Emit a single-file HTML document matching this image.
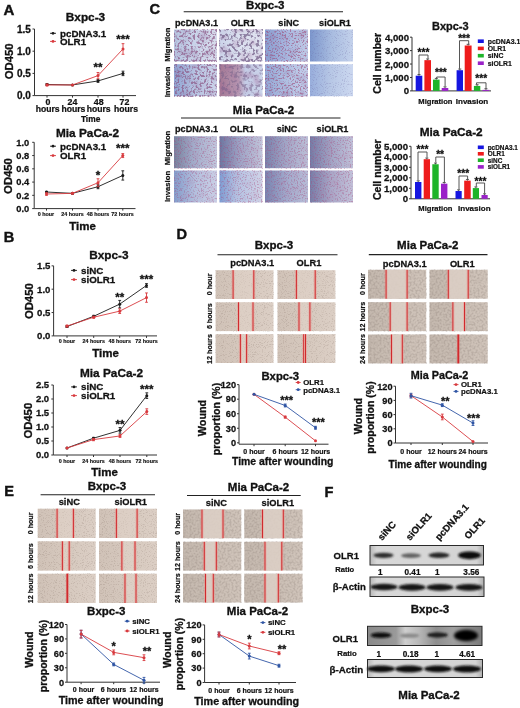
<!DOCTYPE html><html><head><meta charset="utf-8"><title>Figure</title><style>html,body{margin:0;padding:0;background:#fff;width:520px;height:708px;overflow:hidden}svg{display:block;filter:blur(0.35px)}</style></head><body><svg width="520" height="708" viewBox="0 0 520 708" font-family='"Liberation Sans", Arial, sans-serif'><defs><filter id="cellA" x="0" y="0" width="1" height="1" color-interpolation-filters="sRGB"><feTurbulence type="fractalNoise" baseFrequency="0.45" numOctaves="2" seed="3"/><feColorMatrix type="matrix" values="0 0 0 0 0.55 0 0 0 0 0.34 0 0 0 0 0.52 6 0 0 0 -2.9"/><feComponentTransfer><feFuncA type="linear" slope="0.7"/></feComponentTransfer><feGaussianBlur stdDeviation="0.55"/></filter><filter id="cellB" x="0" y="0" width="1" height="1" color-interpolation-filters="sRGB"><feTurbulence type="fractalNoise" baseFrequency="0.32" numOctaves="2" seed="7"/><feColorMatrix type="matrix" values="0 0 0 0 0.46 0 0 0 0 0.38 0 0 0 0 0.54 7 0 0 0 -3.5"/><feComponentTransfer><feFuncA type="linear" slope="0.75"/></feComponentTransfer><feGaussianBlur stdDeviation="0.55"/></filter><filter id="cellC" x="0" y="0" width="1" height="1" color-interpolation-filters="sRGB"><feTurbulence type="fractalNoise" baseFrequency="0.6" numOctaves="2" seed="11"/><feColorMatrix type="matrix" values="0 0 0 0 0.62 0 0 0 0 0.3 0 0 0 0 0.48 6 0 0 0 -3.1"/><feComponentTransfer><feFuncA type="linear" slope="0.6"/></feComponentTransfer><feGaussianBlur stdDeviation="0.55"/></filter><filter id="cellD" x="0" y="0" width="1" height="1" color-interpolation-filters="sRGB"><feTurbulence type="fractalNoise" baseFrequency="0.9" numOctaves="2" seed="5"/><feColorMatrix type="matrix" values="0 0 0 0 0.4 0 0 0 0 0.35 0 0 0 0 0.6 6 0 0 0 -3.4"/><feComponentTransfer><feFuncA type="linear" slope="0.22"/></feComponentTransfer><feGaussianBlur stdDeviation="0.55"/></filter><filter id="cellE" x="0" y="0" width="1" height="1" color-interpolation-filters="sRGB"><feTurbulence type="fractalNoise" baseFrequency="0.7" numOctaves="2" seed="13"/><feColorMatrix type="matrix" values="0 0 0 0 0.66 0 0 0 0 0.28 0 0 0 0 0.48 6 0 0 0 -3.1"/><feComponentTransfer><feFuncA type="linear" slope="0.6"/></feComponentTransfer><feGaussianBlur stdDeviation="0.55"/></filter><filter id="speck" x="0" y="0" width="1" height="1" color-interpolation-filters="sRGB"><feTurbulence type="fractalNoise" baseFrequency="0.9" numOctaves="2" seed="2"/><feColorMatrix type="matrix" values="0 0 0 0 0.38 0 0 0 0 0.3 0 0 0 0 0.26 5 0 0 0 -2.7"/><feComponentTransfer><feFuncA type="linear" slope="0.16"/></feComponentTransfer><feGaussianBlur stdDeviation="0.45"/></filter><filter id="speck2" x="0" y="0" width="1" height="1" color-interpolation-filters="sRGB"><feTurbulence type="fractalNoise" baseFrequency="0.5" numOctaves="3" seed="9"/><feColorMatrix type="matrix" values="0 0 0 0 0.45 0 0 0 0 0.4 0 0 0 0 0.37 4 0 0 0 -1.7"/><feComponentTransfer><feFuncA type="linear" slope="0.2"/></feComponentTransfer><feGaussianBlur stdDeviation="0.5"/></filter><filter id="mot1" x="0" y="0" width="1" height="1" color-interpolation-filters="sRGB"><feTurbulence type="fractalNoise" baseFrequency="0.12" numOctaves="2" seed="21"/><feColorMatrix type="matrix" values="0 0 0 0 0.55 0 0 0 0 0.4 0 0 0 0 0.6 5 0 0 0 -2.6"/><feComponentTransfer><feFuncA type="linear" slope="0.3"/></feComponentTransfer><feGaussianBlur stdDeviation="1.0"/></filter><filter id="mot2" x="0" y="0" width="1" height="1" color-interpolation-filters="sRGB"><feTurbulence type="fractalNoise" baseFrequency="0.15" numOctaves="2" seed="31"/><feColorMatrix type="matrix" values="0 0 0 0 0.62 0 0 0 0 0.38 0 0 0 0 0.58 5 0 0 0 -2.5"/><feComponentTransfer><feFuncA type="linear" slope="0.35"/></feComponentTransfer><feGaussianBlur stdDeviation="1.0"/></filter><filter id="mot3" x="0" y="0" width="1" height="1" color-interpolation-filters="sRGB"><feTurbulence type="fractalNoise" baseFrequency="0.15" numOctaves="2" seed="41"/><feColorMatrix type="matrix" values="0 0 0 0 0.7 0 0 0 0 0.45 0 0 0 0 0.62 5 0 0 0 -2.6"/><feComponentTransfer><feFuncA type="linear" slope="0.15"/></feComponentTransfer><feGaussianBlur stdDeviation="1.0"/></filter><linearGradient id="tg1" x1="0" y1="0" x2="1" y2="0"><stop offset="0" stop-color="#b6c4e0"/><stop offset="0.5" stop-color="#cad4ea"/><stop offset="1" stop-color="#d8dcec"/></linearGradient><linearGradient id="tg2" x1="0" y1="0" x2="1" y2="0"><stop offset="0" stop-color="#ccd4ea"/><stop offset="0.5" stop-color="#dce2f0"/><stop offset="1" stop-color="#e0e2f0"/></linearGradient><linearGradient id="tg3" x1="0" y1="0" x2="1" y2="0"><stop offset="0" stop-color="#8aa0d2"/><stop offset="0.5" stop-color="#a8b8e0"/><stop offset="1" stop-color="#c0cce8"/></linearGradient><linearGradient id="tg4" x1="0" y1="0" x2="1" y2="0"><stop offset="0" stop-color="#7c96cc"/><stop offset="0.5" stop-color="#a8bce0"/><stop offset="1" stop-color="#c4d2ec"/></linearGradient><linearGradient id="tg5" x1="0" y1="0" x2="1" y2="0"><stop offset="0" stop-color="#90a6d4"/><stop offset="0.5" stop-color="#b8c4e2"/><stop offset="1" stop-color="#ccd4ea"/></linearGradient><linearGradient id="tg6" x1="0" y1="0" x2="1" y2="0"><stop offset="0" stop-color="#a47894"/><stop offset="0.45" stop-color="#b89ab4"/><stop offset="0.6" stop-color="#c4cce6"/><stop offset="1" stop-color="#cdd6ec"/></linearGradient><linearGradient id="tg7" x1="0" y1="0" x2="1" y2="0"><stop offset="0" stop-color="#94aad8"/><stop offset="0.5" stop-color="#b0c0e2"/><stop offset="1" stop-color="#c4d0ec"/></linearGradient><linearGradient id="tg8" x1="0" y1="0" x2="1" y2="0"><stop offset="0" stop-color="#98aedc"/><stop offset="0.5" stop-color="#b8c8e6"/><stop offset="1" stop-color="#ccd8f0"/></linearGradient><linearGradient id="tg9" x1="0" y1="0" x2="1" y2="0"><stop offset="0" stop-color="#76829e"/><stop offset="0.45" stop-color="#a2acca"/><stop offset="1" stop-color="#c2c8de"/></linearGradient><linearGradient id="tg10" x1="0" y1="0" x2="1" y2="0"><stop offset="0" stop-color="#6c76a0"/><stop offset="0.45" stop-color="#9ca2c4"/><stop offset="1" stop-color="#c2c6dc"/></linearGradient><linearGradient id="tg11" x1="0" y1="0" x2="1" y2="0"><stop offset="0" stop-color="#7882ac"/><stop offset="0.5" stop-color="#a2a8c8"/><stop offset="1" stop-color="#bcc0d8"/></linearGradient><linearGradient id="tg12" x1="0" y1="0" x2="1" y2="0"><stop offset="0" stop-color="#747ca6"/><stop offset="0.5" stop-color="#a2a6c6"/><stop offset="1" stop-color="#c0c2da"/></linearGradient><linearGradient id="tg13" x1="0" y1="0" x2="1" y2="0"><stop offset="0" stop-color="#849ecc"/><stop offset="0.5" stop-color="#b4c0de"/><stop offset="1" stop-color="#cad0e6"/></linearGradient><linearGradient id="tg14" x1="0" y1="0" x2="1" y2="0"><stop offset="0" stop-color="#7e9cd2"/><stop offset="0.4" stop-color="#b4c2e2"/><stop offset="1" stop-color="#d0d4e8"/></linearGradient><linearGradient id="tg15" x1="0" y1="0" x2="1" y2="0"><stop offset="0" stop-color="#7884b0"/><stop offset="0.5" stop-color="#a2aacc"/><stop offset="1" stop-color="#b8bed8"/></linearGradient><linearGradient id="tg16" x1="0" y1="0" x2="1" y2="0"><stop offset="0" stop-color="#767ea8"/><stop offset="0.5" stop-color="#aaa8c8"/><stop offset="1" stop-color="#c2c2da"/></linearGradient><linearGradient id="gW1" x1="0" y1="0" x2="1" y2="0"><stop offset="0" stop-color="#d0c2b7"/><stop offset="1" stop-color="#dccfc5"/></linearGradient><linearGradient id="gW2" x1="0" y1="0" x2="1" y2="0"><stop offset="0" stop-color="#c4b8ae"/><stop offset="1" stop-color="#d0c4ba"/></linearGradient><filter id="bl" x="-50%" y="-100%" width="200%" height="300%"><feGaussianBlur stdDeviation="1.1"/></filter><filter id="bl2" x="-50%" y="-100%" width="200%" height="300%"><feGaussianBlur stdDeviation="1.6"/></filter><linearGradient id="gB1" x1="0" y1="0" x2="1" y2="0"><stop offset="0" stop-color="#b8b8b8"/><stop offset="0.06" stop-color="#d8d8d8"/><stop offset="0.94" stop-color="#d4d4d4"/><stop offset="1" stop-color="#b0b0b0"/></linearGradient><linearGradient id="gB3" x1="0" y1="0" x2="1" y2="0"><stop offset="0" stop-color="#8a8a8a"/><stop offset="0.25" stop-color="#9a9a9a"/><stop offset="0.33" stop-color="#cfcfcf"/><stop offset="0.45" stop-color="#b8b8b8"/><stop offset="0.6" stop-color="#8e8e8e"/><stop offset="0.75" stop-color="#a0a0a0"/><stop offset="1" stop-color="#7a7a7a"/></linearGradient></defs><rect width="520" height="708" fill="#fff"/><text x="3.50" y="15.20" font-size="15" text-anchor="start" fill="#111" font-weight="bold" stroke="#111" stroke-width="0.420">A</text>
<text x="149.60" y="14.30" font-size="14.6" text-anchor="start" fill="#111" font-weight="bold" stroke="#111" stroke-width="0.409">C</text>
<text x="3.80" y="242.00" font-size="14.6" text-anchor="start" fill="#111" font-weight="bold" stroke="#111" stroke-width="0.409">B</text>
<text x="176.50" y="239.30" font-size="14.6" text-anchor="start" fill="#111" font-weight="bold" stroke="#111" stroke-width="0.409">D</text>
<text x="4.20" y="495.90" font-size="14.6" text-anchor="start" fill="#111" font-weight="bold" stroke="#111" stroke-width="0.409">E</text>
<text x="324.60" y="497.00" font-size="14.6" text-anchor="start" fill="#111" font-weight="bold" stroke="#111" stroke-width="0.409">F</text>
<line x1="34.50" y1="29.00" x2="34.50" y2="95.60" stroke="#333" stroke-width="1"/>
<line x1="32.50" y1="95.60" x2="34.50" y2="95.60" stroke="#333" stroke-width="1"/>
<text x="30.90" y="99.20" font-size="10" text-anchor="end" fill="#111" font-weight="bold" stroke="#111" stroke-width="0.280">0.0</text>
<line x1="32.50" y1="73.40" x2="34.50" y2="73.40" stroke="#333" stroke-width="1"/>
<text x="30.90" y="77.00" font-size="10" text-anchor="end" fill="#111" font-weight="bold" stroke="#111" stroke-width="0.280">0.5</text>
<line x1="32.50" y1="51.20" x2="34.50" y2="51.20" stroke="#333" stroke-width="1"/>
<text x="30.90" y="54.80" font-size="10" text-anchor="end" fill="#111" font-weight="bold" stroke="#111" stroke-width="0.280">1.0</text>
<line x1="32.50" y1="29.00" x2="34.50" y2="29.00" stroke="#333" stroke-width="1"/>
<text x="30.90" y="32.60" font-size="10" text-anchor="end" fill="#111" font-weight="bold" stroke="#111" stroke-width="0.280">1.5</text>
<line x1="34.50" y1="95.60" x2="136.00" y2="95.60" stroke="#333" stroke-width="1"/>
<line x1="47.00" y1="95.60" x2="47.00" y2="97.60" stroke="#333" stroke-width="1"/>
<line x1="72.50" y1="95.60" x2="72.50" y2="97.60" stroke="#333" stroke-width="1"/>
<line x1="98.00" y1="95.60" x2="98.00" y2="97.60" stroke="#333" stroke-width="1"/>
<line x1="123.00" y1="95.60" x2="123.00" y2="97.60" stroke="#333" stroke-width="1"/>
<text x="85.50" y="21.20" font-size="11.8" text-anchor="middle" fill="#111" font-weight="bold" stroke="#111" stroke-width="0.330">Bxpc-3</text>
<line x1="50.00" y1="33.30" x2="56.00" y2="33.30" stroke="#1a1a1a" stroke-width="0.9"/>
<circle cx="53.00" cy="33.30" r="1.4" fill="#1a1a1a"/>
<text x="60.00" y="36.83" font-size="9.8" text-anchor="start" fill="#111" font-weight="bold" stroke="#111" stroke-width="0.274">pcDNA3.1</text>
<line x1="50.00" y1="41.40" x2="56.00" y2="41.40" stroke="#d83a3e" stroke-width="0.9"/>
<circle cx="53.00" cy="41.40" r="1.4" fill="#d83a3e"/>
<text x="60.00" y="44.93" font-size="9.8" text-anchor="start" fill="#111" font-weight="bold" stroke="#111" stroke-width="0.274">OLR1</text>
<polyline points="47.00,84.50 72.50,84.94 98.00,80.95 123.00,73.40" fill="none" stroke="#1a1a1a" stroke-width="0.9"/>
<line x1="47.00" y1="83.61" x2="47.00" y2="85.39" stroke="#1a1a1a" stroke-width="0.9"/>
<line x1="45.60" y1="83.61" x2="48.40" y2="83.61" stroke="#1a1a1a" stroke-width="0.9"/>
<line x1="45.60" y1="85.39" x2="48.40" y2="85.39" stroke="#1a1a1a" stroke-width="0.9"/>
<circle cx="47.00" cy="84.50" r="1.5" fill="#1a1a1a"/>
<circle cx="72.50" cy="84.94" r="1.5" fill="#1a1a1a"/>
<line x1="98.00" y1="79.62" x2="98.00" y2="82.28" stroke="#1a1a1a" stroke-width="0.9"/>
<line x1="96.60" y1="79.62" x2="99.40" y2="79.62" stroke="#1a1a1a" stroke-width="0.9"/>
<line x1="96.60" y1="82.28" x2="99.40" y2="82.28" stroke="#1a1a1a" stroke-width="0.9"/>
<circle cx="98.00" cy="80.95" r="1.5" fill="#1a1a1a"/>
<line x1="123.00" y1="71.18" x2="123.00" y2="75.62" stroke="#1a1a1a" stroke-width="0.9"/>
<line x1="121.60" y1="71.18" x2="124.40" y2="71.18" stroke="#1a1a1a" stroke-width="0.9"/>
<line x1="121.60" y1="75.62" x2="124.40" y2="75.62" stroke="#1a1a1a" stroke-width="0.9"/>
<circle cx="123.00" cy="73.40" r="1.5" fill="#1a1a1a"/>
<polyline points="47.00,84.94 72.50,84.94 98.00,75.62 123.00,48.98" fill="none" stroke="#d83a3e" stroke-width="0.9"/>
<line x1="47.00" y1="84.06" x2="47.00" y2="85.83" stroke="#d83a3e" stroke-width="0.9"/>
<line x1="45.60" y1="84.06" x2="48.40" y2="84.06" stroke="#d83a3e" stroke-width="0.9"/>
<line x1="45.60" y1="85.83" x2="48.40" y2="85.83" stroke="#d83a3e" stroke-width="0.9"/>
<circle cx="47.00" cy="84.94" r="1.5" fill="#d83a3e"/>
<circle cx="72.50" cy="84.94" r="1.5" fill="#d83a3e"/>
<line x1="98.00" y1="72.51" x2="98.00" y2="78.73" stroke="#d83a3e" stroke-width="0.9"/>
<line x1="96.60" y1="72.51" x2="99.40" y2="72.51" stroke="#d83a3e" stroke-width="0.9"/>
<line x1="96.60" y1="78.73" x2="99.40" y2="78.73" stroke="#d83a3e" stroke-width="0.9"/>
<circle cx="98.00" cy="75.62" r="1.5" fill="#d83a3e"/>
<line x1="123.00" y1="43.65" x2="123.00" y2="54.31" stroke="#d83a3e" stroke-width="0.9"/>
<line x1="121.60" y1="43.65" x2="124.40" y2="43.65" stroke="#d83a3e" stroke-width="0.9"/>
<line x1="121.60" y1="54.31" x2="124.40" y2="54.31" stroke="#d83a3e" stroke-width="0.9"/>
<circle cx="123.00" cy="48.98" r="1.5" fill="#d83a3e"/>
<text x="98.00" y="71.48" font-size="11.5" text-anchor="middle" fill="#111" font-weight="bold" stroke="#111" stroke-width="0.322">**</text>
<text x="123.00" y="43.48" font-size="11.5" text-anchor="middle" fill="#111" font-weight="bold" stroke="#111" stroke-width="0.322">***</text>
<text x="13.00" y="61.30" font-size="11.3" text-anchor="middle" fill="#111" font-weight="bold" transform="rotate(-90 13.00 61.30)" stroke="#111" stroke-width="0.316">OD450</text>
<text x="90.60" y="121.60" font-size="8.4" text-anchor="middle" fill="#111" font-weight="bold" stroke="#111" stroke-width="0.235">Time</text>
<text x="48.00" y="105.40" font-size="8.8" text-anchor="middle" fill="#111" font-weight="bold" stroke="#111" stroke-width="0.246">0</text>
<text x="47.60" y="112.40" font-size="8.6" text-anchor="middle" fill="#111" font-weight="bold" stroke="#111" stroke-width="0.241">hours</text>
<text x="72.50" y="105.40" font-size="8.8" text-anchor="middle" fill="#111" font-weight="bold" stroke="#111" stroke-width="0.246">24</text>
<text x="73.40" y="112.40" font-size="8.6" text-anchor="middle" fill="#111" font-weight="bold" stroke="#111" stroke-width="0.241">hours</text>
<text x="98.70" y="105.40" font-size="8.8" text-anchor="middle" fill="#111" font-weight="bold" stroke="#111" stroke-width="0.246">48</text>
<text x="98.60" y="112.40" font-size="8.6" text-anchor="middle" fill="#111" font-weight="bold" stroke="#111" stroke-width="0.241">hours</text>
<text x="124.40" y="105.40" font-size="8.8" text-anchor="middle" fill="#111" font-weight="bold" stroke="#111" stroke-width="0.246">72</text>
<text x="126.00" y="112.40" font-size="8.6" text-anchor="middle" fill="#111" font-weight="bold" stroke="#111" stroke-width="0.241">hours</text>
<line x1="34.20" y1="142.30" x2="34.20" y2="208.60" stroke="#333" stroke-width="1"/>
<line x1="32.20" y1="208.60" x2="34.20" y2="208.60" stroke="#333" stroke-width="1"/>
<text x="29.20" y="211.95" font-size="9.3" text-anchor="end" fill="#111" font-weight="bold" stroke="#111" stroke-width="0.260">0.0</text>
<line x1="32.20" y1="195.34" x2="34.20" y2="195.34" stroke="#333" stroke-width="1"/>
<text x="29.20" y="198.69" font-size="9.3" text-anchor="end" fill="#111" font-weight="bold" stroke="#111" stroke-width="0.260">0.2</text>
<line x1="32.20" y1="182.08" x2="34.20" y2="182.08" stroke="#333" stroke-width="1"/>
<text x="29.20" y="185.43" font-size="9.3" text-anchor="end" fill="#111" font-weight="bold" stroke="#111" stroke-width="0.260">0.4</text>
<line x1="32.20" y1="168.82" x2="34.20" y2="168.82" stroke="#333" stroke-width="1"/>
<text x="29.20" y="172.17" font-size="9.3" text-anchor="end" fill="#111" font-weight="bold" stroke="#111" stroke-width="0.260">0.6</text>
<line x1="32.20" y1="155.56" x2="34.20" y2="155.56" stroke="#333" stroke-width="1"/>
<text x="29.20" y="158.91" font-size="9.3" text-anchor="end" fill="#111" font-weight="bold" stroke="#111" stroke-width="0.260">0.8</text>
<line x1="32.20" y1="142.30" x2="34.20" y2="142.30" stroke="#333" stroke-width="1"/>
<text x="29.20" y="145.65" font-size="9.3" text-anchor="end" fill="#111" font-weight="bold" stroke="#111" stroke-width="0.260">1.0</text>
<line x1="34.20" y1="208.60" x2="135.50" y2="208.60" stroke="#333" stroke-width="1"/>
<line x1="46.50" y1="208.60" x2="46.50" y2="210.60" stroke="#333" stroke-width="1"/>
<line x1="72.50" y1="208.60" x2="72.50" y2="210.60" stroke="#333" stroke-width="1"/>
<line x1="98.00" y1="208.60" x2="98.00" y2="210.60" stroke="#333" stroke-width="1"/>
<line x1="122.80" y1="208.60" x2="122.80" y2="210.60" stroke="#333" stroke-width="1"/>
<text x="87.50" y="137.20" font-size="11.8" text-anchor="middle" fill="#111" font-weight="bold" stroke="#111" stroke-width="0.330">Mia PaCa-2</text>
<line x1="50.00" y1="146.20" x2="56.00" y2="146.20" stroke="#1a1a1a" stroke-width="0.9"/>
<circle cx="53.00" cy="146.20" r="1.4" fill="#1a1a1a"/>
<text x="60.00" y="149.73" font-size="9.8" text-anchor="start" fill="#111" font-weight="bold" stroke="#111" stroke-width="0.274">pcDNA3.1</text>
<line x1="50.00" y1="155.60" x2="56.00" y2="155.60" stroke="#d83a3e" stroke-width="0.9"/>
<circle cx="53.00" cy="155.60" r="1.4" fill="#d83a3e"/>
<text x="60.00" y="159.13" font-size="9.8" text-anchor="start" fill="#111" font-weight="bold" stroke="#111" stroke-width="0.274">OLR1</text>
<polyline points="46.50,192.03 72.50,193.35 98.00,186.72 122.80,175.45" fill="none" stroke="#1a1a1a" stroke-width="0.9"/>
<line x1="46.50" y1="191.36" x2="46.50" y2="192.69" stroke="#1a1a1a" stroke-width="0.9"/>
<line x1="45.10" y1="191.36" x2="47.90" y2="191.36" stroke="#1a1a1a" stroke-width="0.9"/>
<line x1="45.10" y1="192.69" x2="47.90" y2="192.69" stroke="#1a1a1a" stroke-width="0.9"/>
<circle cx="46.50" cy="192.03" r="1.5" fill="#1a1a1a"/>
<line x1="72.50" y1="192.69" x2="72.50" y2="194.01" stroke="#1a1a1a" stroke-width="0.9"/>
<line x1="71.10" y1="192.69" x2="73.90" y2="192.69" stroke="#1a1a1a" stroke-width="0.9"/>
<line x1="71.10" y1="194.01" x2="73.90" y2="194.01" stroke="#1a1a1a" stroke-width="0.9"/>
<circle cx="72.50" cy="193.35" r="1.5" fill="#1a1a1a"/>
<line x1="98.00" y1="184.73" x2="98.00" y2="188.71" stroke="#1a1a1a" stroke-width="0.9"/>
<line x1="96.60" y1="184.73" x2="99.40" y2="184.73" stroke="#1a1a1a" stroke-width="0.9"/>
<line x1="96.60" y1="188.71" x2="99.40" y2="188.71" stroke="#1a1a1a" stroke-width="0.9"/>
<circle cx="98.00" cy="186.72" r="1.5" fill="#1a1a1a"/>
<line x1="122.80" y1="170.81" x2="122.80" y2="180.09" stroke="#1a1a1a" stroke-width="0.9"/>
<line x1="121.40" y1="170.81" x2="124.20" y2="170.81" stroke="#1a1a1a" stroke-width="0.9"/>
<line x1="121.40" y1="180.09" x2="124.20" y2="180.09" stroke="#1a1a1a" stroke-width="0.9"/>
<circle cx="122.80" cy="175.45" r="1.5" fill="#1a1a1a"/>
<polyline points="46.50,194.01 72.50,193.35 98.00,182.74 122.80,155.56" fill="none" stroke="#d83a3e" stroke-width="0.9"/>
<line x1="46.50" y1="192.69" x2="46.50" y2="195.34" stroke="#d83a3e" stroke-width="0.9"/>
<line x1="45.10" y1="192.69" x2="47.90" y2="192.69" stroke="#d83a3e" stroke-width="0.9"/>
<line x1="45.10" y1="195.34" x2="47.90" y2="195.34" stroke="#d83a3e" stroke-width="0.9"/>
<circle cx="46.50" cy="194.01" r="1.5" fill="#d83a3e"/>
<line x1="72.50" y1="192.69" x2="72.50" y2="194.01" stroke="#d83a3e" stroke-width="0.9"/>
<line x1="71.10" y1="192.69" x2="73.90" y2="192.69" stroke="#d83a3e" stroke-width="0.9"/>
<line x1="71.10" y1="194.01" x2="73.90" y2="194.01" stroke="#d83a3e" stroke-width="0.9"/>
<circle cx="72.50" cy="193.35" r="1.5" fill="#d83a3e"/>
<line x1="98.00" y1="178.76" x2="98.00" y2="186.72" stroke="#d83a3e" stroke-width="0.9"/>
<line x1="96.60" y1="178.76" x2="99.40" y2="178.76" stroke="#d83a3e" stroke-width="0.9"/>
<line x1="96.60" y1="186.72" x2="99.40" y2="186.72" stroke="#d83a3e" stroke-width="0.9"/>
<circle cx="98.00" cy="182.74" r="1.5" fill="#d83a3e"/>
<line x1="122.80" y1="153.57" x2="122.80" y2="157.55" stroke="#d83a3e" stroke-width="0.9"/>
<line x1="121.40" y1="153.57" x2="124.20" y2="153.57" stroke="#d83a3e" stroke-width="0.9"/>
<line x1="121.40" y1="157.55" x2="124.20" y2="157.55" stroke="#d83a3e" stroke-width="0.9"/>
<circle cx="122.80" cy="155.56" r="1.5" fill="#d83a3e"/>
<text x="98.00" y="178.98" font-size="11.5" text-anchor="middle" fill="#111" font-weight="bold" stroke="#111" stroke-width="0.322">*</text>
<text x="122.80" y="152.18" font-size="11.5" text-anchor="middle" fill="#111" font-weight="bold" stroke="#111" stroke-width="0.322">***</text>
<text x="11.80" y="176.00" font-size="11.3" text-anchor="middle" fill="#111" font-weight="bold" transform="rotate(-90 11.80 176.00)" stroke="#111" stroke-width="0.316">OD450</text>
<text x="82.50" y="229.80" font-size="11.5" text-anchor="middle" fill="#111" font-weight="bold" stroke="#111" stroke-width="0.322">Time</text>
<text x="46.00" y="215.80" font-size="5.4" text-anchor="middle" fill="#111" font-weight="bold" stroke="#111" stroke-width="0.151">0 hour</text>
<text x="72.50" y="215.80" font-size="5.4" text-anchor="middle" fill="#111" font-weight="bold" stroke="#111" stroke-width="0.151">24 hours</text>
<text x="98.00" y="215.80" font-size="5.4" text-anchor="middle" fill="#111" font-weight="bold" stroke="#111" stroke-width="0.151">48 hours</text>
<text x="122.50" y="215.80" font-size="5.4" text-anchor="middle" fill="#111" font-weight="bold" stroke="#111" stroke-width="0.151">72 hours</text>
<line x1="53.60" y1="265.85" x2="53.60" y2="335.90" stroke="#333" stroke-width="1"/>
<line x1="51.60" y1="335.90" x2="53.60" y2="335.90" stroke="#333" stroke-width="1"/>
<text x="50.40" y="339.36" font-size="9.6" text-anchor="end" fill="#111" font-weight="bold" stroke="#111" stroke-width="0.269">0.0</text>
<line x1="51.60" y1="312.55" x2="53.60" y2="312.55" stroke="#333" stroke-width="1"/>
<text x="50.40" y="316.01" font-size="9.6" text-anchor="end" fill="#111" font-weight="bold" stroke="#111" stroke-width="0.269">0.5</text>
<line x1="51.60" y1="289.20" x2="53.60" y2="289.20" stroke="#333" stroke-width="1"/>
<text x="50.40" y="292.66" font-size="9.6" text-anchor="end" fill="#111" font-weight="bold" stroke="#111" stroke-width="0.269">1.0</text>
<line x1="51.60" y1="265.85" x2="53.60" y2="265.85" stroke="#333" stroke-width="1"/>
<text x="50.40" y="269.31" font-size="9.6" text-anchor="end" fill="#111" font-weight="bold" stroke="#111" stroke-width="0.269">1.5</text>
<line x1="53.60" y1="335.90" x2="157.00" y2="335.90" stroke="#333" stroke-width="1"/>
<line x1="67.00" y1="335.90" x2="67.00" y2="337.90" stroke="#333" stroke-width="1"/>
<line x1="93.70" y1="335.90" x2="93.70" y2="337.90" stroke="#333" stroke-width="1"/>
<line x1="119.70" y1="335.90" x2="119.70" y2="337.90" stroke="#333" stroke-width="1"/>
<line x1="146.50" y1="335.90" x2="146.50" y2="337.90" stroke="#333" stroke-width="1"/>
<text x="108.90" y="258.80" font-size="11.8" text-anchor="middle" fill="#111" font-weight="bold" stroke="#111" stroke-width="0.330">Bxpc-3</text>
<line x1="71.00" y1="270.40" x2="77.00" y2="270.40" stroke="#1a1a1a" stroke-width="0.9"/>
<circle cx="74.00" cy="270.40" r="1.4" fill="#1a1a1a"/>
<text x="81.00" y="273.93" font-size="9.8" text-anchor="start" fill="#111" font-weight="bold" stroke="#111" stroke-width="0.274">siNC</text>
<line x1="71.00" y1="279.60" x2="77.00" y2="279.60" stroke="#d83a3e" stroke-width="0.9"/>
<circle cx="74.00" cy="279.60" r="1.4" fill="#d83a3e"/>
<text x="81.00" y="283.13" font-size="9.8" text-anchor="start" fill="#111" font-weight="bold" stroke="#111" stroke-width="0.274">siOLR1</text>
<polyline points="67.00,326.56 93.70,316.29 119.70,304.14 146.50,285.46" fill="none" stroke="#1a1a1a" stroke-width="0.9"/>
<line x1="67.00" y1="325.63" x2="67.00" y2="327.49" stroke="#1a1a1a" stroke-width="0.9"/>
<line x1="65.60" y1="325.63" x2="68.40" y2="325.63" stroke="#1a1a1a" stroke-width="0.9"/>
<line x1="65.60" y1="327.49" x2="68.40" y2="327.49" stroke="#1a1a1a" stroke-width="0.9"/>
<circle cx="67.00" cy="326.56" r="1.5" fill="#1a1a1a"/>
<line x1="93.70" y1="315.35" x2="93.70" y2="317.22" stroke="#1a1a1a" stroke-width="0.9"/>
<line x1="92.30" y1="315.35" x2="95.10" y2="315.35" stroke="#1a1a1a" stroke-width="0.9"/>
<line x1="92.30" y1="317.22" x2="95.10" y2="317.22" stroke="#1a1a1a" stroke-width="0.9"/>
<circle cx="93.70" cy="316.29" r="1.5" fill="#1a1a1a"/>
<line x1="119.70" y1="300.41" x2="119.70" y2="307.88" stroke="#1a1a1a" stroke-width="0.9"/>
<line x1="118.30" y1="300.41" x2="121.10" y2="300.41" stroke="#1a1a1a" stroke-width="0.9"/>
<line x1="118.30" y1="307.88" x2="121.10" y2="307.88" stroke="#1a1a1a" stroke-width="0.9"/>
<circle cx="119.70" cy="304.14" r="1.5" fill="#1a1a1a"/>
<line x1="146.50" y1="283.60" x2="146.50" y2="287.33" stroke="#1a1a1a" stroke-width="0.9"/>
<line x1="145.10" y1="283.60" x2="147.90" y2="283.60" stroke="#1a1a1a" stroke-width="0.9"/>
<line x1="145.10" y1="287.33" x2="147.90" y2="287.33" stroke="#1a1a1a" stroke-width="0.9"/>
<circle cx="146.50" cy="285.46" r="1.5" fill="#1a1a1a"/>
<polyline points="67.00,326.09 93.70,317.22 119.70,311.15 146.50,297.61" fill="none" stroke="#d83a3e" stroke-width="0.9"/>
<line x1="67.00" y1="325.16" x2="67.00" y2="327.03" stroke="#d83a3e" stroke-width="0.9"/>
<line x1="65.60" y1="325.16" x2="68.40" y2="325.16" stroke="#d83a3e" stroke-width="0.9"/>
<line x1="65.60" y1="327.03" x2="68.40" y2="327.03" stroke="#d83a3e" stroke-width="0.9"/>
<circle cx="67.00" cy="326.09" r="1.5" fill="#d83a3e"/>
<line x1="93.70" y1="316.29" x2="93.70" y2="318.15" stroke="#d83a3e" stroke-width="0.9"/>
<line x1="92.30" y1="316.29" x2="95.10" y2="316.29" stroke="#d83a3e" stroke-width="0.9"/>
<line x1="92.30" y1="318.15" x2="95.10" y2="318.15" stroke="#d83a3e" stroke-width="0.9"/>
<circle cx="93.70" cy="317.22" r="1.5" fill="#d83a3e"/>
<line x1="119.70" y1="308.81" x2="119.70" y2="313.48" stroke="#d83a3e" stroke-width="0.9"/>
<line x1="118.30" y1="308.81" x2="121.10" y2="308.81" stroke="#d83a3e" stroke-width="0.9"/>
<line x1="118.30" y1="313.48" x2="121.10" y2="313.48" stroke="#d83a3e" stroke-width="0.9"/>
<circle cx="119.70" cy="311.15" r="1.5" fill="#d83a3e"/>
<line x1="146.50" y1="292.94" x2="146.50" y2="302.28" stroke="#d83a3e" stroke-width="0.9"/>
<line x1="145.10" y1="292.94" x2="147.90" y2="292.94" stroke="#d83a3e" stroke-width="0.9"/>
<line x1="145.10" y1="302.28" x2="147.90" y2="302.28" stroke="#d83a3e" stroke-width="0.9"/>
<circle cx="146.50" cy="297.61" r="1.5" fill="#d83a3e"/>
<text x="119.70" y="300.98" font-size="11.5" text-anchor="middle" fill="#111" font-weight="bold" stroke="#111" stroke-width="0.322">**</text>
<text x="146.50" y="282.98" font-size="11.5" text-anchor="middle" fill="#111" font-weight="bold" stroke="#111" stroke-width="0.322">***</text>
<text x="33.40" y="301.20" font-size="11.3" text-anchor="middle" fill="#111" font-weight="bold" transform="rotate(-90 33.40 301.20)" stroke="#111" stroke-width="0.316">OD450</text>
<text x="105.60" y="356.80" font-size="11.5" text-anchor="middle" fill="#111" font-weight="bold" stroke="#111" stroke-width="0.322">Time</text>
<text x="67.00" y="342.60" font-size="5.4" text-anchor="middle" fill="#111" font-weight="bold" stroke="#111" stroke-width="0.151">0 hour</text>
<text x="93.70" y="342.60" font-size="5.4" text-anchor="middle" fill="#111" font-weight="bold" stroke="#111" stroke-width="0.151">24 hours</text>
<text x="119.70" y="342.60" font-size="5.4" text-anchor="middle" fill="#111" font-weight="bold" stroke="#111" stroke-width="0.151">48 hours</text>
<text x="146.50" y="342.60" font-size="5.4" text-anchor="middle" fill="#111" font-weight="bold" stroke="#111" stroke-width="0.151">72 hours</text>
<line x1="53.30" y1="385.00" x2="53.30" y2="455.00" stroke="#333" stroke-width="1"/>
<line x1="51.30" y1="455.00" x2="53.30" y2="455.00" stroke="#333" stroke-width="1"/>
<text x="49.10" y="458.42" font-size="9.5" text-anchor="end" fill="#111" font-weight="bold" stroke="#111" stroke-width="0.266">0.0</text>
<line x1="51.30" y1="441.00" x2="53.30" y2="441.00" stroke="#333" stroke-width="1"/>
<text x="49.10" y="444.42" font-size="9.5" text-anchor="end" fill="#111" font-weight="bold" stroke="#111" stroke-width="0.266">0.5</text>
<line x1="51.30" y1="427.00" x2="53.30" y2="427.00" stroke="#333" stroke-width="1"/>
<text x="49.10" y="430.42" font-size="9.5" text-anchor="end" fill="#111" font-weight="bold" stroke="#111" stroke-width="0.266">1.0</text>
<line x1="51.30" y1="413.00" x2="53.30" y2="413.00" stroke="#333" stroke-width="1"/>
<text x="49.10" y="416.42" font-size="9.5" text-anchor="end" fill="#111" font-weight="bold" stroke="#111" stroke-width="0.266">1.5</text>
<line x1="51.30" y1="399.00" x2="53.30" y2="399.00" stroke="#333" stroke-width="1"/>
<text x="49.10" y="402.42" font-size="9.5" text-anchor="end" fill="#111" font-weight="bold" stroke="#111" stroke-width="0.266">2.0</text>
<line x1="51.30" y1="385.00" x2="53.30" y2="385.00" stroke="#333" stroke-width="1"/>
<text x="49.10" y="388.42" font-size="9.5" text-anchor="end" fill="#111" font-weight="bold" stroke="#111" stroke-width="0.266">2.5</text>
<line x1="53.30" y1="455.00" x2="157.00" y2="455.00" stroke="#333" stroke-width="1"/>
<line x1="67.00" y1="455.00" x2="67.00" y2="457.00" stroke="#333" stroke-width="1"/>
<line x1="93.50" y1="455.00" x2="93.50" y2="457.00" stroke="#333" stroke-width="1"/>
<line x1="120.00" y1="455.00" x2="120.00" y2="457.00" stroke="#333" stroke-width="1"/>
<line x1="146.80" y1="455.00" x2="146.80" y2="457.00" stroke="#333" stroke-width="1"/>
<text x="111.50" y="377.00" font-size="11.8" text-anchor="middle" fill="#111" font-weight="bold" stroke="#111" stroke-width="0.330">Mia PaCa-2</text>
<line x1="71.00" y1="386.90" x2="77.00" y2="386.90" stroke="#1a1a1a" stroke-width="0.9"/>
<circle cx="74.00" cy="386.90" r="1.4" fill="#1a1a1a"/>
<text x="81.00" y="390.43" font-size="9.8" text-anchor="start" fill="#111" font-weight="bold" stroke="#111" stroke-width="0.274">siNC</text>
<line x1="71.00" y1="395.60" x2="77.00" y2="395.60" stroke="#d83a3e" stroke-width="0.9"/>
<circle cx="74.00" cy="395.60" r="1.4" fill="#d83a3e"/>
<text x="81.00" y="399.13" font-size="9.8" text-anchor="start" fill="#111" font-weight="bold" stroke="#111" stroke-width="0.274">siOLR1</text>
<polyline points="67.00,448.00 93.50,438.20 120.00,430.36 146.80,395.64" fill="none" stroke="#1a1a1a" stroke-width="0.9"/>
<circle cx="67.00" cy="448.00" r="1.5" fill="#1a1a1a"/>
<line x1="93.50" y1="437.36" x2="93.50" y2="439.04" stroke="#1a1a1a" stroke-width="0.9"/>
<line x1="92.10" y1="437.36" x2="94.90" y2="437.36" stroke="#1a1a1a" stroke-width="0.9"/>
<line x1="92.10" y1="439.04" x2="94.90" y2="439.04" stroke="#1a1a1a" stroke-width="0.9"/>
<circle cx="93.50" cy="438.20" r="1.5" fill="#1a1a1a"/>
<line x1="120.00" y1="427.56" x2="120.00" y2="433.16" stroke="#1a1a1a" stroke-width="0.9"/>
<line x1="118.60" y1="427.56" x2="121.40" y2="427.56" stroke="#1a1a1a" stroke-width="0.9"/>
<line x1="118.60" y1="433.16" x2="121.40" y2="433.16" stroke="#1a1a1a" stroke-width="0.9"/>
<circle cx="120.00" cy="430.36" r="1.5" fill="#1a1a1a"/>
<line x1="146.80" y1="392.84" x2="146.80" y2="398.44" stroke="#1a1a1a" stroke-width="0.9"/>
<line x1="145.40" y1="392.84" x2="148.20" y2="392.84" stroke="#1a1a1a" stroke-width="0.9"/>
<line x1="145.40" y1="398.44" x2="148.20" y2="398.44" stroke="#1a1a1a" stroke-width="0.9"/>
<circle cx="146.80" cy="395.64" r="1.5" fill="#1a1a1a"/>
<polyline points="67.00,448.00 93.50,439.60 120.00,435.96 146.80,411.60" fill="none" stroke="#d83a3e" stroke-width="0.9"/>
<circle cx="67.00" cy="448.00" r="1.5" fill="#d83a3e"/>
<line x1="93.50" y1="438.48" x2="93.50" y2="440.72" stroke="#d83a3e" stroke-width="0.9"/>
<line x1="92.10" y1="438.48" x2="94.90" y2="438.48" stroke="#d83a3e" stroke-width="0.9"/>
<line x1="92.10" y1="440.72" x2="94.90" y2="440.72" stroke="#d83a3e" stroke-width="0.9"/>
<circle cx="93.50" cy="439.60" r="1.5" fill="#d83a3e"/>
<line x1="120.00" y1="434.56" x2="120.00" y2="437.36" stroke="#d83a3e" stroke-width="0.9"/>
<line x1="118.60" y1="434.56" x2="121.40" y2="434.56" stroke="#d83a3e" stroke-width="0.9"/>
<line x1="118.60" y1="437.36" x2="121.40" y2="437.36" stroke="#d83a3e" stroke-width="0.9"/>
<circle cx="120.00" cy="435.96" r="1.5" fill="#d83a3e"/>
<line x1="146.80" y1="408.80" x2="146.80" y2="414.40" stroke="#d83a3e" stroke-width="0.9"/>
<line x1="145.40" y1="408.80" x2="148.20" y2="408.80" stroke="#d83a3e" stroke-width="0.9"/>
<line x1="145.40" y1="414.40" x2="148.20" y2="414.40" stroke="#d83a3e" stroke-width="0.9"/>
<circle cx="146.80" cy="411.60" r="1.5" fill="#d83a3e"/>
<text x="120.00" y="427.68" font-size="11.5" text-anchor="middle" fill="#111" font-weight="bold" stroke="#111" stroke-width="0.322">**</text>
<text x="146.80" y="392.98" font-size="11.5" text-anchor="middle" fill="#111" font-weight="bold" stroke="#111" stroke-width="0.322">***</text>
<text x="32.30" y="420.70" font-size="11.3" text-anchor="middle" fill="#111" font-weight="bold" transform="rotate(-90 32.30 420.70)" stroke="#111" stroke-width="0.316">OD450</text>
<text x="104.60" y="476.00" font-size="11.5" text-anchor="middle" fill="#111" font-weight="bold" stroke="#111" stroke-width="0.322">Time</text>
<text x="67.00" y="463.40" font-size="5.4" text-anchor="middle" fill="#111" font-weight="bold" stroke="#111" stroke-width="0.151">0 hour</text>
<text x="93.50" y="463.40" font-size="5.4" text-anchor="middle" fill="#111" font-weight="bold" stroke="#111" stroke-width="0.151">24 hours</text>
<text x="120.00" y="463.40" font-size="5.4" text-anchor="middle" fill="#111" font-weight="bold" stroke="#111" stroke-width="0.151">48 hours</text>
<text x="146.80" y="463.40" font-size="5.4" text-anchor="middle" fill="#111" font-weight="bold" stroke="#111" stroke-width="0.151">72 hours</text>
<line x1="239.00" y1="384.64" x2="239.00" y2="444.20" stroke="#333" stroke-width="1"/>
<line x1="237.00" y1="442.80" x2="239.00" y2="442.80" stroke="#333" stroke-width="1"/>
<text x="236.00" y="446.11" font-size="9.2" text-anchor="end" fill="#111" font-weight="bold" stroke="#111" stroke-width="0.258">0</text>
<line x1="237.00" y1="428.26" x2="239.00" y2="428.26" stroke="#333" stroke-width="1"/>
<text x="236.00" y="431.57" font-size="9.2" text-anchor="end" fill="#111" font-weight="bold" stroke="#111" stroke-width="0.258">30</text>
<line x1="237.00" y1="413.72" x2="239.00" y2="413.72" stroke="#333" stroke-width="1"/>
<text x="236.00" y="417.03" font-size="9.2" text-anchor="end" fill="#111" font-weight="bold" stroke="#111" stroke-width="0.258">60</text>
<line x1="237.00" y1="399.18" x2="239.00" y2="399.18" stroke="#333" stroke-width="1"/>
<text x="236.00" y="402.49" font-size="9.2" text-anchor="end" fill="#111" font-weight="bold" stroke="#111" stroke-width="0.258">90</text>
<line x1="237.00" y1="384.64" x2="239.00" y2="384.64" stroke="#333" stroke-width="1"/>
<text x="236.00" y="387.95" font-size="9.2" text-anchor="end" fill="#111" font-weight="bold" stroke="#111" stroke-width="0.258">120</text>
<line x1="239.00" y1="444.20" x2="328.50" y2="444.20" stroke="#333" stroke-width="1"/>
<line x1="254.00" y1="444.20" x2="254.00" y2="446.20" stroke="#333" stroke-width="1"/>
<line x1="285.20" y1="444.20" x2="285.20" y2="446.20" stroke="#333" stroke-width="1"/>
<line x1="315.50" y1="444.20" x2="315.50" y2="446.20" stroke="#333" stroke-width="1"/>
<text x="280.30" y="380.00" font-size="11.3" text-anchor="middle" fill="#111" font-weight="bold" stroke="#111" stroke-width="0.316">Bxpc-3</text>
<line x1="295.70" y1="382.50" x2="300.70" y2="382.50" stroke="#d83a3e" stroke-width="0.9"/>
<circle cx="298.20" cy="382.50" r="1.4" fill="#d83a3e"/>
<text x="303.20" y="385.31" font-size="7.8" text-anchor="start" fill="#111" font-weight="bold" stroke="#111" stroke-width="0.218">OLR1</text>
<line x1="295.70" y1="389.70" x2="300.70" y2="389.70" stroke="#2f55a4" stroke-width="0.9"/>
<circle cx="298.20" cy="389.70" r="1.4" fill="#2f55a4"/>
<text x="303.20" y="392.51" font-size="7.8" text-anchor="start" fill="#111" font-weight="bold" stroke="#111" stroke-width="0.218">pcDNA3.1</text>
<polyline points="254.00,394.33 285.20,417.11 315.50,440.86" fill="none" stroke="#d83a3e" stroke-width="0.9"/>
<circle cx="254.00" cy="394.33" r="1.5" fill="#d83a3e"/>
<line x1="285.20" y1="416.14" x2="285.20" y2="418.08" stroke="#d83a3e" stroke-width="0.9"/>
<line x1="283.80" y1="416.14" x2="286.60" y2="416.14" stroke="#d83a3e" stroke-width="0.9"/>
<line x1="283.80" y1="418.08" x2="286.60" y2="418.08" stroke="#d83a3e" stroke-width="0.9"/>
<circle cx="285.20" cy="417.11" r="1.5" fill="#d83a3e"/>
<circle cx="315.50" cy="440.86" r="1.5" fill="#d83a3e"/>
<polyline points="254.00,394.33 285.20,405.48 315.50,427.77" fill="none" stroke="#2f55a4" stroke-width="0.9"/>
<circle cx="254.00" cy="394.33" r="1.5" fill="#2f55a4"/>
<line x1="285.20" y1="404.02" x2="285.20" y2="406.93" stroke="#2f55a4" stroke-width="0.9"/>
<line x1="283.80" y1="404.02" x2="286.60" y2="404.02" stroke="#2f55a4" stroke-width="0.9"/>
<line x1="283.80" y1="406.93" x2="286.60" y2="406.93" stroke="#2f55a4" stroke-width="0.9"/>
<circle cx="285.20" cy="405.48" r="1.5" fill="#2f55a4"/>
<line x1="315.50" y1="426.32" x2="315.50" y2="429.23" stroke="#2f55a4" stroke-width="0.9"/>
<line x1="314.10" y1="426.32" x2="316.90" y2="426.32" stroke="#2f55a4" stroke-width="0.9"/>
<line x1="314.10" y1="429.23" x2="316.90" y2="429.23" stroke="#2f55a4" stroke-width="0.9"/>
<circle cx="315.50" cy="427.77" r="1.5" fill="#2f55a4"/>
<text x="286.60" y="403.72" font-size="11" text-anchor="middle" fill="#111" font-weight="bold" stroke="#111" stroke-width="0.308">***</text>
<text x="318.40" y="426.32" font-size="11" text-anchor="middle" fill="#111" font-weight="bold" stroke="#111" stroke-width="0.308">***</text>
<text x="254.00" y="453.60" font-size="7" text-anchor="middle" fill="#111" font-weight="bold" stroke="#111" stroke-width="0.196">0 hour</text>
<text x="285.20" y="453.60" font-size="7" text-anchor="middle" fill="#111" font-weight="bold" stroke="#111" stroke-width="0.196">6 hours</text>
<text x="315.50" y="453.60" font-size="7" text-anchor="middle" fill="#111" font-weight="bold" stroke="#111" stroke-width="0.196">12 hours</text>
<text x="205.50" y="418.00" font-size="10.8" text-anchor="middle" fill="#111" font-weight="bold" transform="rotate(-90 205.50 418.00)" stroke="#111" stroke-width="0.302">Wound</text>
<text x="219.80" y="419.00" font-size="10.5" text-anchor="middle" fill="#111" font-weight="bold" transform="rotate(-90 219.80 419.00)" stroke="#111" stroke-width="0.294">proportion (%)</text>
<text x="282.70" y="465.30" font-size="10.4" text-anchor="middle" fill="#111" font-weight="bold" stroke="#111" stroke-width="0.291">Time after wounding</text>
<line x1="395.50" y1="386.20" x2="395.50" y2="443.00" stroke="#333" stroke-width="1"/>
<line x1="393.50" y1="443.00" x2="395.50" y2="443.00" stroke="#333" stroke-width="1"/>
<text x="392.50" y="446.31" font-size="9.2" text-anchor="end" fill="#111" font-weight="bold" stroke="#111" stroke-width="0.258">0</text>
<line x1="393.50" y1="428.80" x2="395.50" y2="428.80" stroke="#333" stroke-width="1"/>
<text x="392.50" y="432.11" font-size="9.2" text-anchor="end" fill="#111" font-weight="bold" stroke="#111" stroke-width="0.258">30</text>
<line x1="393.50" y1="414.60" x2="395.50" y2="414.60" stroke="#333" stroke-width="1"/>
<text x="392.50" y="417.91" font-size="9.2" text-anchor="end" fill="#111" font-weight="bold" stroke="#111" stroke-width="0.258">60</text>
<line x1="393.50" y1="400.40" x2="395.50" y2="400.40" stroke="#333" stroke-width="1"/>
<text x="392.50" y="403.72" font-size="9.2" text-anchor="end" fill="#111" font-weight="bold" stroke="#111" stroke-width="0.258">90</text>
<line x1="393.50" y1="386.20" x2="395.50" y2="386.20" stroke="#333" stroke-width="1"/>
<text x="392.50" y="389.52" font-size="9.2" text-anchor="end" fill="#111" font-weight="bold" stroke="#111" stroke-width="0.258">120</text>
<line x1="395.50" y1="443.00" x2="488.00" y2="443.00" stroke="#333" stroke-width="1"/>
<line x1="411.00" y1="443.00" x2="411.00" y2="445.00" stroke="#333" stroke-width="1"/>
<line x1="442.30" y1="443.00" x2="442.30" y2="445.00" stroke="#333" stroke-width="1"/>
<line x1="473.00" y1="443.00" x2="473.00" y2="445.00" stroke="#333" stroke-width="1"/>
<text x="439.50" y="379.20" font-size="10.8" text-anchor="middle" fill="#111" font-weight="bold" stroke="#111" stroke-width="0.302">Mia PaCa-2</text>
<line x1="453.50" y1="384.60" x2="458.50" y2="384.60" stroke="#d83a3e" stroke-width="0.9"/>
<circle cx="456.00" cy="384.60" r="1.4" fill="#d83a3e"/>
<text x="461.00" y="387.41" font-size="7.8" text-anchor="start" fill="#111" font-weight="bold" stroke="#111" stroke-width="0.218">OLR1</text>
<line x1="453.50" y1="391.40" x2="458.50" y2="391.40" stroke="#2f55a4" stroke-width="0.9"/>
<circle cx="456.00" cy="391.40" r="1.4" fill="#2f55a4"/>
<text x="461.00" y="394.21" font-size="7.8" text-anchor="start" fill="#111" font-weight="bold" stroke="#111" stroke-width="0.218">pcDNA3.1</text>
<polyline points="411.00,395.67 442.30,416.97 473.00,441.58" fill="none" stroke="#d83a3e" stroke-width="0.9"/>
<line x1="411.00" y1="394.25" x2="411.00" y2="397.09" stroke="#d83a3e" stroke-width="0.9"/>
<line x1="409.60" y1="394.25" x2="412.40" y2="394.25" stroke="#d83a3e" stroke-width="0.9"/>
<line x1="409.60" y1="397.09" x2="412.40" y2="397.09" stroke="#d83a3e" stroke-width="0.9"/>
<circle cx="411.00" cy="395.67" r="1.5" fill="#d83a3e"/>
<line x1="442.30" y1="414.13" x2="442.30" y2="419.81" stroke="#d83a3e" stroke-width="0.9"/>
<line x1="440.90" y1="414.13" x2="443.70" y2="414.13" stroke="#d83a3e" stroke-width="0.9"/>
<line x1="440.90" y1="419.81" x2="443.70" y2="419.81" stroke="#d83a3e" stroke-width="0.9"/>
<circle cx="442.30" cy="416.97" r="1.5" fill="#d83a3e"/>
<circle cx="473.00" cy="441.58" r="1.5" fill="#d83a3e"/>
<polyline points="411.00,395.67 442.30,405.14 473.00,423.12" fill="none" stroke="#2f55a4" stroke-width="0.9"/>
<line x1="411.00" y1="393.30" x2="411.00" y2="398.04" stroke="#2f55a4" stroke-width="0.9"/>
<line x1="409.60" y1="393.30" x2="412.40" y2="393.30" stroke="#2f55a4" stroke-width="0.9"/>
<line x1="409.60" y1="398.04" x2="412.40" y2="398.04" stroke="#2f55a4" stroke-width="0.9"/>
<circle cx="411.00" cy="395.67" r="1.5" fill="#2f55a4"/>
<line x1="442.30" y1="403.72" x2="442.30" y2="406.56" stroke="#2f55a4" stroke-width="0.9"/>
<line x1="440.90" y1="403.72" x2="443.70" y2="403.72" stroke="#2f55a4" stroke-width="0.9"/>
<line x1="440.90" y1="406.56" x2="443.70" y2="406.56" stroke="#2f55a4" stroke-width="0.9"/>
<circle cx="442.30" cy="405.14" r="1.5" fill="#2f55a4"/>
<line x1="473.00" y1="420.75" x2="473.00" y2="425.49" stroke="#2f55a4" stroke-width="0.9"/>
<line x1="471.60" y1="420.75" x2="474.40" y2="420.75" stroke="#2f55a4" stroke-width="0.9"/>
<line x1="471.60" y1="425.49" x2="474.40" y2="425.49" stroke="#2f55a4" stroke-width="0.9"/>
<circle cx="473.00" cy="423.12" r="1.5" fill="#2f55a4"/>
<text x="445.20" y="404.92" font-size="11" text-anchor="middle" fill="#111" font-weight="bold" stroke="#111" stroke-width="0.308">**</text>
<text x="473.50" y="421.52" font-size="11" text-anchor="middle" fill="#111" font-weight="bold" stroke="#111" stroke-width="0.308">***</text>
<text x="411.00" y="454.00" font-size="7" text-anchor="middle" fill="#111" font-weight="bold" stroke="#111" stroke-width="0.196">0 hour</text>
<text x="442.30" y="454.00" font-size="7" text-anchor="middle" fill="#111" font-weight="bold" stroke="#111" stroke-width="0.196">12 hours</text>
<text x="473.00" y="454.00" font-size="7" text-anchor="middle" fill="#111" font-weight="bold" stroke="#111" stroke-width="0.196">24 hours</text>
<text x="361.50" y="416.00" font-size="10.8" text-anchor="middle" fill="#111" font-weight="bold" transform="rotate(-90 361.50 416.00)" stroke="#111" stroke-width="0.302">Wound</text>
<text x="374.00" y="417.50" font-size="10.5" text-anchor="middle" fill="#111" font-weight="bold" transform="rotate(-90 374.00 417.50)" stroke="#111" stroke-width="0.294">proportion (%)</text>
<text x="437.70" y="467.60" font-size="10.1" text-anchor="middle" fill="#111" font-weight="bold" stroke="#111" stroke-width="0.283">Time after wounding</text>
<line x1="67.00" y1="624.50" x2="67.00" y2="682.20" stroke="#333" stroke-width="1"/>
<line x1="65.00" y1="682.20" x2="67.00" y2="682.20" stroke="#333" stroke-width="1"/>
<text x="64.00" y="685.51" font-size="9.2" text-anchor="end" fill="#111" font-weight="bold" stroke="#111" stroke-width="0.258">0</text>
<line x1="65.00" y1="667.78" x2="67.00" y2="667.78" stroke="#333" stroke-width="1"/>
<text x="64.00" y="671.09" font-size="9.2" text-anchor="end" fill="#111" font-weight="bold" stroke="#111" stroke-width="0.258">30</text>
<line x1="65.00" y1="653.35" x2="67.00" y2="653.35" stroke="#333" stroke-width="1"/>
<text x="64.00" y="656.66" font-size="9.2" text-anchor="end" fill="#111" font-weight="bold" stroke="#111" stroke-width="0.258">60</text>
<line x1="65.00" y1="638.93" x2="67.00" y2="638.93" stroke="#333" stroke-width="1"/>
<text x="64.00" y="642.24" font-size="9.2" text-anchor="end" fill="#111" font-weight="bold" stroke="#111" stroke-width="0.258">90</text>
<line x1="65.00" y1="624.50" x2="67.00" y2="624.50" stroke="#333" stroke-width="1"/>
<text x="64.00" y="627.82" font-size="9.2" text-anchor="end" fill="#111" font-weight="bold" stroke="#111" stroke-width="0.258">120</text>
<line x1="67.00" y1="682.20" x2="160.00" y2="682.20" stroke="#333" stroke-width="1"/>
<line x1="81.10" y1="682.20" x2="81.10" y2="684.20" stroke="#333" stroke-width="1"/>
<line x1="113.70" y1="682.20" x2="113.70" y2="684.20" stroke="#333" stroke-width="1"/>
<line x1="144.00" y1="682.20" x2="144.00" y2="684.20" stroke="#333" stroke-width="1"/>
<text x="106.30" y="614.90" font-size="11.5" text-anchor="middle" fill="#111" font-weight="bold" stroke="#111" stroke-width="0.322">Bxpc-3</text>
<line x1="124.70" y1="621.20" x2="129.70" y2="621.20" stroke="#2f55a4" stroke-width="0.9"/>
<circle cx="127.20" cy="621.20" r="1.4" fill="#2f55a4"/>
<text x="132.20" y="624.01" font-size="7.8" text-anchor="start" fill="#111" font-weight="bold" stroke="#111" stroke-width="0.218">siNC</text>
<line x1="124.70" y1="631.00" x2="129.70" y2="631.00" stroke="#d83a3e" stroke-width="0.9"/>
<circle cx="127.20" cy="631.00" r="1.4" fill="#d83a3e"/>
<text x="132.20" y="633.81" font-size="7.8" text-anchor="start" fill="#111" font-weight="bold" stroke="#111" stroke-width="0.218">siOLR1</text>
<polyline points="81.10,634.12 113.70,664.41 144.00,680.28" fill="none" stroke="#2f55a4" stroke-width="0.9"/>
<line x1="81.10" y1="630.27" x2="81.10" y2="637.97" stroke="#2f55a4" stroke-width="0.9"/>
<line x1="79.70" y1="630.27" x2="82.50" y2="630.27" stroke="#2f55a4" stroke-width="0.9"/>
<line x1="79.70" y1="637.97" x2="82.50" y2="637.97" stroke="#2f55a4" stroke-width="0.9"/>
<circle cx="81.10" cy="634.12" r="1.5" fill="#2f55a4"/>
<line x1="113.70" y1="662.97" x2="113.70" y2="665.85" stroke="#2f55a4" stroke-width="0.9"/>
<line x1="112.30" y1="662.97" x2="115.10" y2="662.97" stroke="#2f55a4" stroke-width="0.9"/>
<line x1="112.30" y1="665.85" x2="115.10" y2="665.85" stroke="#2f55a4" stroke-width="0.9"/>
<circle cx="113.70" cy="664.41" r="1.5" fill="#2f55a4"/>
<line x1="144.00" y1="677.39" x2="144.00" y2="683.16" stroke="#2f55a4" stroke-width="0.9"/>
<line x1="142.60" y1="677.39" x2="145.40" y2="677.39" stroke="#2f55a4" stroke-width="0.9"/>
<line x1="142.60" y1="683.16" x2="145.40" y2="683.16" stroke="#2f55a4" stroke-width="0.9"/>
<circle cx="144.00" cy="680.28" r="1.5" fill="#2f55a4"/>
<polyline points="81.10,634.12 113.70,652.39 144.00,657.68" fill="none" stroke="#d83a3e" stroke-width="0.9"/>
<line x1="81.10" y1="630.27" x2="81.10" y2="637.97" stroke="#d83a3e" stroke-width="0.9"/>
<line x1="79.70" y1="630.27" x2="82.50" y2="630.27" stroke="#d83a3e" stroke-width="0.9"/>
<line x1="79.70" y1="637.97" x2="82.50" y2="637.97" stroke="#d83a3e" stroke-width="0.9"/>
<circle cx="81.10" cy="634.12" r="1.5" fill="#d83a3e"/>
<line x1="113.70" y1="649.99" x2="113.70" y2="654.79" stroke="#d83a3e" stroke-width="0.9"/>
<line x1="112.30" y1="649.99" x2="115.10" y2="649.99" stroke="#d83a3e" stroke-width="0.9"/>
<line x1="112.30" y1="654.79" x2="115.10" y2="654.79" stroke="#d83a3e" stroke-width="0.9"/>
<circle cx="113.70" cy="652.39" r="1.5" fill="#d83a3e"/>
<line x1="144.00" y1="654.79" x2="144.00" y2="660.56" stroke="#d83a3e" stroke-width="0.9"/>
<line x1="142.60" y1="654.79" x2="145.40" y2="654.79" stroke="#d83a3e" stroke-width="0.9"/>
<line x1="142.60" y1="660.56" x2="145.40" y2="660.56" stroke="#d83a3e" stroke-width="0.9"/>
<circle cx="144.00" cy="657.68" r="1.5" fill="#d83a3e"/>
<text x="113.70" y="650.42" font-size="11" text-anchor="middle" fill="#111" font-weight="bold" stroke="#111" stroke-width="0.308">*</text>
<text x="147.00" y="654.72" font-size="11" text-anchor="middle" fill="#111" font-weight="bold" stroke="#111" stroke-width="0.308">**</text>
<text x="83.50" y="691.80" font-size="7" text-anchor="middle" fill="#111" font-weight="bold" stroke="#111" stroke-width="0.196">0 hour</text>
<text x="113.50" y="691.80" font-size="7" text-anchor="middle" fill="#111" font-weight="bold" stroke="#111" stroke-width="0.196">6 hours</text>
<text x="144.00" y="691.80" font-size="7" text-anchor="middle" fill="#111" font-weight="bold" stroke="#111" stroke-width="0.196">12 hours</text>
<text x="33.00" y="649.50" font-size="10.8" text-anchor="middle" fill="#111" font-weight="bold" transform="rotate(-90 33.00 649.50)" stroke="#111" stroke-width="0.302">Wound</text>
<text x="46.50" y="656.00" font-size="10.5" text-anchor="middle" fill="#111" font-weight="bold" transform="rotate(-90 46.50 656.00)" stroke="#111" stroke-width="0.294">proportion (%)</text>
<text x="111.10" y="703.80" font-size="10.75" text-anchor="middle" fill="#111" font-weight="bold" stroke="#111" stroke-width="0.301">Time after wounding</text>
<line x1="204.60" y1="624.90" x2="204.60" y2="682.50" stroke="#333" stroke-width="1"/>
<line x1="202.60" y1="682.50" x2="204.60" y2="682.50" stroke="#333" stroke-width="1"/>
<text x="201.60" y="685.81" font-size="9.2" text-anchor="end" fill="#111" font-weight="bold" stroke="#111" stroke-width="0.258">0</text>
<line x1="202.60" y1="668.10" x2="204.60" y2="668.10" stroke="#333" stroke-width="1"/>
<text x="201.60" y="671.41" font-size="9.2" text-anchor="end" fill="#111" font-weight="bold" stroke="#111" stroke-width="0.258">30</text>
<line x1="202.60" y1="653.70" x2="204.60" y2="653.70" stroke="#333" stroke-width="1"/>
<text x="201.60" y="657.01" font-size="9.2" text-anchor="end" fill="#111" font-weight="bold" stroke="#111" stroke-width="0.258">60</text>
<line x1="202.60" y1="639.30" x2="204.60" y2="639.30" stroke="#333" stroke-width="1"/>
<text x="201.60" y="642.61" font-size="9.2" text-anchor="end" fill="#111" font-weight="bold" stroke="#111" stroke-width="0.258">90</text>
<line x1="202.60" y1="624.90" x2="204.60" y2="624.90" stroke="#333" stroke-width="1"/>
<text x="201.60" y="628.21" font-size="9.2" text-anchor="end" fill="#111" font-weight="bold" stroke="#111" stroke-width="0.258">120</text>
<line x1="204.60" y1="682.50" x2="296.00" y2="682.50" stroke="#333" stroke-width="1"/>
<line x1="219.00" y1="682.50" x2="219.00" y2="684.50" stroke="#333" stroke-width="1"/>
<line x1="249.30" y1="682.50" x2="249.30" y2="684.50" stroke="#333" stroke-width="1"/>
<line x1="279.00" y1="682.50" x2="279.00" y2="684.50" stroke="#333" stroke-width="1"/>
<text x="257.50" y="615.00" font-size="11.5" text-anchor="middle" fill="#111" font-weight="bold" stroke="#111" stroke-width="0.322">Mia PaCa-2</text>
<line x1="260.40" y1="622.60" x2="265.40" y2="622.60" stroke="#2f55a4" stroke-width="0.9"/>
<circle cx="262.90" cy="622.60" r="1.4" fill="#2f55a4"/>
<text x="267.90" y="625.41" font-size="7.8" text-anchor="start" fill="#111" font-weight="bold" stroke="#111" stroke-width="0.218">siNC</text>
<line x1="260.40" y1="632.30" x2="265.40" y2="632.30" stroke="#d83a3e" stroke-width="0.9"/>
<circle cx="262.90" cy="632.30" r="1.4" fill="#d83a3e"/>
<text x="267.90" y="635.11" font-size="7.8" text-anchor="start" fill="#111" font-weight="bold" stroke="#111" stroke-width="0.218">siOLR1</text>
<polyline points="219.00,634.50 249.30,656.10 279.00,665.70" fill="none" stroke="#2f55a4" stroke-width="0.9"/>
<line x1="219.00" y1="632.10" x2="219.00" y2="636.90" stroke="#2f55a4" stroke-width="0.9"/>
<line x1="217.60" y1="632.10" x2="220.40" y2="632.10" stroke="#2f55a4" stroke-width="0.9"/>
<line x1="217.60" y1="636.90" x2="220.40" y2="636.90" stroke="#2f55a4" stroke-width="0.9"/>
<circle cx="219.00" cy="634.50" r="1.5" fill="#2f55a4"/>
<line x1="249.30" y1="653.22" x2="249.30" y2="658.98" stroke="#2f55a4" stroke-width="0.9"/>
<line x1="247.90" y1="653.22" x2="250.70" y2="653.22" stroke="#2f55a4" stroke-width="0.9"/>
<line x1="247.90" y1="658.98" x2="250.70" y2="658.98" stroke="#2f55a4" stroke-width="0.9"/>
<circle cx="249.30" cy="656.10" r="1.5" fill="#2f55a4"/>
<line x1="279.00" y1="664.26" x2="279.00" y2="667.14" stroke="#2f55a4" stroke-width="0.9"/>
<line x1="277.60" y1="664.26" x2="280.40" y2="664.26" stroke="#2f55a4" stroke-width="0.9"/>
<line x1="277.60" y1="667.14" x2="280.40" y2="667.14" stroke="#2f55a4" stroke-width="0.9"/>
<circle cx="279.00" cy="665.70" r="1.5" fill="#2f55a4"/>
<polyline points="219.00,634.50 249.30,646.02 279.00,653.22" fill="none" stroke="#d83a3e" stroke-width="0.9"/>
<line x1="219.00" y1="632.10" x2="219.00" y2="636.90" stroke="#d83a3e" stroke-width="0.9"/>
<line x1="217.60" y1="632.10" x2="220.40" y2="632.10" stroke="#d83a3e" stroke-width="0.9"/>
<line x1="217.60" y1="636.90" x2="220.40" y2="636.90" stroke="#d83a3e" stroke-width="0.9"/>
<circle cx="219.00" cy="634.50" r="1.5" fill="#d83a3e"/>
<line x1="249.30" y1="643.14" x2="249.30" y2="648.90" stroke="#d83a3e" stroke-width="0.9"/>
<line x1="247.90" y1="643.14" x2="250.70" y2="643.14" stroke="#d83a3e" stroke-width="0.9"/>
<line x1="247.90" y1="648.90" x2="250.70" y2="648.90" stroke="#d83a3e" stroke-width="0.9"/>
<circle cx="249.30" cy="646.02" r="1.5" fill="#d83a3e"/>
<line x1="279.00" y1="651.78" x2="279.00" y2="654.66" stroke="#d83a3e" stroke-width="0.9"/>
<line x1="277.60" y1="651.78" x2="280.40" y2="651.78" stroke="#d83a3e" stroke-width="0.9"/>
<line x1="277.60" y1="654.66" x2="280.40" y2="654.66" stroke="#d83a3e" stroke-width="0.9"/>
<circle cx="279.00" cy="653.22" r="1.5" fill="#d83a3e"/>
<text x="249.30" y="643.22" font-size="11" text-anchor="middle" fill="#111" font-weight="bold" stroke="#111" stroke-width="0.308">*</text>
<text x="282.00" y="653.32" font-size="11" text-anchor="middle" fill="#111" font-weight="bold" stroke="#111" stroke-width="0.308">**</text>
<text x="219.00" y="692.60" font-size="7" text-anchor="middle" fill="#111" font-weight="bold" stroke="#111" stroke-width="0.196">0 hour</text>
<text x="249.30" y="692.60" font-size="7" text-anchor="middle" fill="#111" font-weight="bold" stroke="#111" stroke-width="0.196">6 hours</text>
<text x="279.00" y="692.60" font-size="7" text-anchor="middle" fill="#111" font-weight="bold" stroke="#111" stroke-width="0.196">12 hours</text>
<text x="171.40" y="649.70" font-size="10.8" text-anchor="middle" fill="#111" font-weight="bold" transform="rotate(-90 171.40 649.70)" stroke="#111" stroke-width="0.302">Wound</text>
<text x="183.30" y="654.00" font-size="10.5" text-anchor="middle" fill="#111" font-weight="bold" transform="rotate(-90 183.30 654.00)" stroke="#111" stroke-width="0.294">proportion (%)</text>
<text x="246.70" y="705.30" font-size="10.75" text-anchor="middle" fill="#111" font-weight="bold" stroke="#111" stroke-width="0.301">Time after wounding</text>
<line x1="412.00" y1="37.18" x2="412.00" y2="90.90" stroke="#333" stroke-width="1"/>
<line x1="410.00" y1="90.90" x2="412.00" y2="90.90" stroke="#333" stroke-width="1"/>
<text x="409.00" y="94.36" font-size="9.6" text-anchor="end" fill="#111" font-weight="bold" stroke="#111" stroke-width="0.269">0</text>
<line x1="410.00" y1="77.47" x2="412.00" y2="77.47" stroke="#333" stroke-width="1"/>
<text x="409.00" y="80.93" font-size="9.6" text-anchor="end" fill="#111" font-weight="bold" stroke="#111" stroke-width="0.269">1,000</text>
<line x1="410.00" y1="64.04" x2="412.00" y2="64.04" stroke="#333" stroke-width="1"/>
<text x="409.00" y="67.50" font-size="9.6" text-anchor="end" fill="#111" font-weight="bold" stroke="#111" stroke-width="0.269">2,000</text>
<line x1="410.00" y1="50.61" x2="412.00" y2="50.61" stroke="#333" stroke-width="1"/>
<text x="409.00" y="54.07" font-size="9.6" text-anchor="end" fill="#111" font-weight="bold" stroke="#111" stroke-width="0.269">3,000</text>
<line x1="410.00" y1="37.18" x2="412.00" y2="37.18" stroke="#333" stroke-width="1"/>
<text x="409.00" y="40.64" font-size="9.6" text-anchor="end" fill="#111" font-weight="bold" stroke="#111" stroke-width="0.269">4,000</text>
<line x1="412.00" y1="90.90" x2="491.00" y2="90.90" stroke="#333" stroke-width="1"/>
<rect x="415.70" y="75.72" width="6.60" height="15.18" fill="#1616e0"/>
<line x1="419.00" y1="74.52" x2="419.00" y2="75.72" stroke="#333" stroke-width="0.8"/>
<line x1="417.50" y1="74.52" x2="420.50" y2="74.52" stroke="#333" stroke-width="0.8"/>
<rect x="424.40" y="60.15" width="6.60" height="30.75" fill="#ee1c1c"/>
<line x1="427.70" y1="58.95" x2="427.70" y2="60.15" stroke="#333" stroke-width="0.8"/>
<line x1="426.20" y1="58.95" x2="429.20" y2="58.95" stroke="#333" stroke-width="0.8"/>
<rect x="433.00" y="79.62" width="6.60" height="11.28" fill="#1eb42a"/>
<line x1="436.30" y1="78.42" x2="436.30" y2="79.62" stroke="#333" stroke-width="0.8"/>
<line x1="434.80" y1="78.42" x2="437.80" y2="78.42" stroke="#333" stroke-width="0.8"/>
<rect x="441.70" y="88.01" width="6.60" height="2.89" fill="#9a22c8"/>
<line x1="445.00" y1="86.81" x2="445.00" y2="88.01" stroke="#333" stroke-width="0.8"/>
<line x1="443.50" y1="86.81" x2="446.50" y2="86.81" stroke="#333" stroke-width="0.8"/>
<rect x="456.60" y="70.22" width="6.40" height="20.68" fill="#1616e0"/>
<line x1="459.80" y1="69.02" x2="459.80" y2="70.22" stroke="#333" stroke-width="0.8"/>
<line x1="458.30" y1="69.02" x2="461.30" y2="69.02" stroke="#333" stroke-width="0.8"/>
<rect x="464.70" y="45.51" width="6.90" height="45.39" fill="#ee1c1c"/>
<line x1="468.15" y1="44.31" x2="468.15" y2="45.51" stroke="#333" stroke-width="0.8"/>
<line x1="466.65" y1="44.31" x2="469.65" y2="44.31" stroke="#333" stroke-width="0.8"/>
<rect x="473.90" y="85.93" width="6.40" height="4.97" fill="#1eb42a"/>
<line x1="477.10" y1="84.73" x2="477.10" y2="85.93" stroke="#333" stroke-width="0.8"/>
<line x1="475.60" y1="84.73" x2="478.60" y2="84.73" stroke="#333" stroke-width="0.8"/>
<rect x="482.50" y="89.89" width="6.90" height="1.01" fill="#9a22c8"/>
<line x1="485.95" y1="88.69" x2="485.95" y2="89.89" stroke="#333" stroke-width="0.8"/>
<line x1="484.45" y1="88.69" x2="487.45" y2="88.69" stroke="#333" stroke-width="0.8"/>
<polyline points="419.00,74.20 419.00,55.00 428.00,55.00 428.00,58.50" fill="none" stroke="#444" stroke-width="0.9"/>
<text x="423.50" y="56.10" font-size="10.2" text-anchor="middle" fill="#111" font-weight="bold" stroke="#111" stroke-width="0.286">***</text>
<polyline points="436.70,78.30 436.70,77.00 445.10,77.00 445.10,86.00" fill="none" stroke="#444" stroke-width="0.9"/>
<text x="440.90" y="76.30" font-size="10.2" text-anchor="middle" fill="#111" font-weight="bold" stroke="#111" stroke-width="0.286">***</text>
<polyline points="459.50,68.80 459.50,40.70 468.70,40.70 468.70,44.00" fill="none" stroke="#444" stroke-width="0.9"/>
<text x="464.10" y="42.10" font-size="10.2" text-anchor="middle" fill="#111" font-weight="bold" stroke="#111" stroke-width="0.286">***</text>
<polyline points="476.50,84.50 476.50,82.80 486.00,82.80 486.00,88.50" fill="none" stroke="#444" stroke-width="0.9"/>
<text x="481.25" y="82.00" font-size="10.2" text-anchor="middle" fill="#111" font-weight="bold" stroke="#111" stroke-width="0.286">***</text>
<text x="450.30" y="29.80" font-size="11" text-anchor="middle" fill="#111" font-weight="bold" stroke="#111" stroke-width="0.308">Bxpc-3</text>
<rect x="477.80" y="39.40" width="6.00" height="3.60" fill="#1616e0"/>
<text x="487.70" y="43.60" font-size="6.9" text-anchor="start" fill="#111" font-weight="bold" stroke="#111" stroke-width="0.193">pcDNA3.1</text>
<rect x="477.80" y="46.60" width="6.00" height="3.60" fill="#ee1c1c"/>
<text x="487.70" y="50.80" font-size="6.9" text-anchor="start" fill="#111" font-weight="bold" stroke="#111" stroke-width="0.193">OLR1</text>
<rect x="477.80" y="53.90" width="6.00" height="3.60" fill="#1eb42a"/>
<text x="487.70" y="58.10" font-size="6.9" text-anchor="start" fill="#111" font-weight="bold" stroke="#111" stroke-width="0.193">siNC</text>
<rect x="477.80" y="61.40" width="6.00" height="3.60" fill="#9a22c8"/>
<text x="487.70" y="65.60" font-size="6.9" text-anchor="start" fill="#111" font-weight="bold" stroke="#111" stroke-width="0.193">siOLR1</text>
<text x="381.00" y="63.30" font-size="10.5" text-anchor="middle" fill="#111" font-weight="bold" transform="rotate(-90 381.00 63.30)" stroke="#111" stroke-width="0.294">Cell number</text>
<text x="435.40" y="104.40" font-size="7.6" text-anchor="middle" fill="#111" font-weight="bold" stroke="#111" stroke-width="0.213">Migration</text>
<text x="472.00" y="104.40" font-size="8.0" text-anchor="middle" fill="#111" font-weight="bold" stroke="#111" stroke-width="0.224">Invasion</text>
<line x1="411.00" y1="146.30" x2="411.00" y2="198.80" stroke="#333" stroke-width="1"/>
<line x1="409.00" y1="198.80" x2="411.00" y2="198.80" stroke="#333" stroke-width="1"/>
<text x="408.00" y="202.26" font-size="9.6" text-anchor="end" fill="#111" font-weight="bold" stroke="#111" stroke-width="0.269">0</text>
<line x1="409.00" y1="188.30" x2="411.00" y2="188.30" stroke="#333" stroke-width="1"/>
<text x="408.00" y="191.76" font-size="9.6" text-anchor="end" fill="#111" font-weight="bold" stroke="#111" stroke-width="0.269">1,000</text>
<line x1="409.00" y1="177.80" x2="411.00" y2="177.80" stroke="#333" stroke-width="1"/>
<text x="408.00" y="181.26" font-size="9.6" text-anchor="end" fill="#111" font-weight="bold" stroke="#111" stroke-width="0.269">2,000</text>
<line x1="409.00" y1="167.30" x2="411.00" y2="167.30" stroke="#333" stroke-width="1"/>
<text x="408.00" y="170.76" font-size="9.6" text-anchor="end" fill="#111" font-weight="bold" stroke="#111" stroke-width="0.269">3,000</text>
<line x1="409.00" y1="156.80" x2="411.00" y2="156.80" stroke="#333" stroke-width="1"/>
<text x="408.00" y="160.26" font-size="9.6" text-anchor="end" fill="#111" font-weight="bold" stroke="#111" stroke-width="0.269">4,000</text>
<line x1="409.00" y1="146.30" x2="411.00" y2="146.30" stroke="#333" stroke-width="1"/>
<text x="408.00" y="149.76" font-size="9.6" text-anchor="end" fill="#111" font-weight="bold" stroke="#111" stroke-width="0.269">5,000</text>
<line x1="411.00" y1="198.80" x2="490.00" y2="198.80" stroke="#333" stroke-width="1"/>
<rect x="415.00" y="182.00" width="6.40" height="16.80" fill="#1616e0"/>
<line x1="418.20" y1="180.80" x2="418.20" y2="182.00" stroke="#333" stroke-width="0.8"/>
<line x1="416.70" y1="180.80" x2="419.70" y2="180.80" stroke="#333" stroke-width="0.8"/>
<rect x="423.70" y="159.22" width="6.30" height="39.59" fill="#ee1c1c"/>
<line x1="426.85" y1="158.02" x2="426.85" y2="159.22" stroke="#333" stroke-width="0.8"/>
<line x1="425.35" y1="158.02" x2="428.35" y2="158.02" stroke="#333" stroke-width="0.8"/>
<rect x="432.30" y="164.25" width="6.40" height="34.55" fill="#1eb42a"/>
<line x1="435.50" y1="163.06" x2="435.50" y2="164.25" stroke="#333" stroke-width="0.8"/>
<line x1="434.00" y1="163.06" x2="437.00" y2="163.06" stroke="#333" stroke-width="0.8"/>
<rect x="441.00" y="183.68" width="6.40" height="15.12" fill="#9a22c8"/>
<line x1="444.20" y1="182.48" x2="444.20" y2="183.68" stroke="#333" stroke-width="0.8"/>
<line x1="442.70" y1="182.48" x2="445.70" y2="182.48" stroke="#333" stroke-width="0.8"/>
<rect x="455.50" y="191.03" width="6.20" height="7.77" fill="#1616e0"/>
<line x1="458.60" y1="189.83" x2="458.60" y2="191.03" stroke="#333" stroke-width="0.8"/>
<line x1="457.10" y1="189.83" x2="460.10" y2="189.83" stroke="#333" stroke-width="0.8"/>
<rect x="464.20" y="180.64" width="6.50" height="18.17" fill="#ee1c1c"/>
<line x1="467.45" y1="179.44" x2="467.45" y2="180.64" stroke="#333" stroke-width="0.8"/>
<line x1="465.95" y1="179.44" x2="468.95" y2="179.44" stroke="#333" stroke-width="0.8"/>
<rect x="472.80" y="188.09" width="6.20" height="10.71" fill="#1eb42a"/>
<line x1="475.90" y1="186.89" x2="475.90" y2="188.09" stroke="#333" stroke-width="0.8"/>
<line x1="474.40" y1="186.89" x2="477.40" y2="186.89" stroke="#333" stroke-width="0.8"/>
<rect x="481.50" y="195.02" width="6.20" height="3.78" fill="#9a22c8"/>
<line x1="484.60" y1="193.82" x2="484.60" y2="195.02" stroke="#333" stroke-width="0.8"/>
<line x1="483.10" y1="193.82" x2="486.10" y2="193.82" stroke="#333" stroke-width="0.8"/>
<polyline points="418.00,180.00 418.00,152.00 427.00,152.00 427.00,157.50" fill="none" stroke="#444" stroke-width="0.9"/>
<text x="422.50" y="152.80" font-size="10.2" text-anchor="middle" fill="#111" font-weight="bold" stroke="#111" stroke-width="0.286">***</text>
<polyline points="435.80,162.50 435.80,157.00 444.40,157.00 444.40,182.00" fill="none" stroke="#444" stroke-width="0.9"/>
<text x="440.10" y="158.10" font-size="10.2" text-anchor="middle" fill="#111" font-weight="bold" stroke="#111" stroke-width="0.286">**</text>
<polyline points="459.00,189.50 459.00,176.00 467.60,176.00 467.60,179.00" fill="none" stroke="#444" stroke-width="0.9"/>
<text x="463.30" y="177.10" font-size="10.2" text-anchor="middle" fill="#111" font-weight="bold" stroke="#111" stroke-width="0.286">***</text>
<polyline points="476.30,186.50 476.30,183.00 484.60,183.00 484.60,193.50" fill="none" stroke="#444" stroke-width="0.9"/>
<text x="480.45" y="184.80" font-size="10.2" text-anchor="middle" fill="#111" font-weight="bold" stroke="#111" stroke-width="0.286">***</text>
<text x="451.20" y="135.90" font-size="11.8" text-anchor="middle" fill="#111" font-weight="bold" stroke="#111" stroke-width="0.330">Mia PaCa-2</text>
<rect x="477.80" y="145.50" width="6.00" height="3.60" fill="#1616e0"/>
<text x="487.70" y="149.70" font-size="6.4" text-anchor="start" fill="#111" font-weight="bold" stroke="#111" stroke-width="0.179">pcDNA3.1</text>
<rect x="477.80" y="152.00" width="6.00" height="3.60" fill="#ee1c1c"/>
<text x="487.70" y="156.20" font-size="6.4" text-anchor="start" fill="#111" font-weight="bold" stroke="#111" stroke-width="0.179">OLR1</text>
<rect x="477.80" y="158.40" width="6.00" height="3.60" fill="#1eb42a"/>
<text x="487.70" y="162.60" font-size="6.4" text-anchor="start" fill="#111" font-weight="bold" stroke="#111" stroke-width="0.179">siNC</text>
<rect x="477.80" y="165.10" width="6.00" height="3.60" fill="#9a22c8"/>
<text x="487.70" y="169.30" font-size="6.4" text-anchor="start" fill="#111" font-weight="bold" stroke="#111" stroke-width="0.179">siOLR1</text>
<text x="381.00" y="169.70" font-size="10.5" text-anchor="middle" fill="#111" font-weight="bold" transform="rotate(-90 381.00 169.70)" stroke="#111" stroke-width="0.294">Cell number</text>
<text x="435.40" y="210.80" font-size="7.6" text-anchor="middle" fill="#111" font-weight="bold" stroke="#111" stroke-width="0.213">Migration</text>
<text x="474.30" y="210.80" font-size="8.0" text-anchor="middle" fill="#111" font-weight="bold" stroke="#111" stroke-width="0.224">Invasion</text>
<rect x="174.00" y="29.50" width="43.00" height="32.00" fill="url(#tg1)"/>
<rect x="174.00" y="29.50" width="43.00" height="32.00" fill="#000" filter="url(#mot1)"/>
<rect x="174.00" y="29.50" width="43.00" height="32.00" fill="#000" filter="url(#cellA)" opacity="1.0"/>
<rect x="219.50" y="29.50" width="43.00" height="32.00" fill="url(#tg2)"/>
<rect x="219.50" y="29.50" width="43.00" height="32.00" fill="#000" filter="url(#mot2)"/>
<rect x="219.50" y="29.50" width="43.00" height="32.00" fill="#000" filter="url(#cellB)" opacity="1.0"/>
<rect x="265.00" y="29.50" width="43.00" height="32.00" fill="url(#tg3)"/>
<rect x="265.00" y="29.50" width="43.00" height="32.00" fill="#000" filter="url(#mot1)"/>
<rect x="265.00" y="29.50" width="43.00" height="32.00" fill="#000" filter="url(#cellC)" opacity="1.0"/>
<rect x="310.00" y="29.50" width="43.00" height="32.00" fill="url(#tg4)"/>
<rect x="310.00" y="29.50" width="43.00" height="32.00" fill="#000" filter="url(#cellD)" opacity="1.0"/>
<rect x="174.00" y="64.20" width="43.00" height="32.00" fill="url(#tg5)"/>
<rect x="174.00" y="64.20" width="43.00" height="32.00" fill="#000" filter="url(#mot1)"/>
<rect x="174.00" y="64.20" width="43.00" height="32.00" fill="#000" filter="url(#cellA)" opacity="1.0"/>
<rect x="219.50" y="64.20" width="43.00" height="32.00" fill="url(#tg6)"/>
<rect x="219.50" y="64.20" width="43.00" height="32.00" fill="#000" filter="url(#mot2)"/>
<rect x="219.50" y="64.20" width="43.00" height="32.00" fill="#000" filter="url(#cellB)" opacity="0.7"/>
<rect x="265.00" y="64.20" width="43.00" height="32.00" fill="url(#tg7)"/>
<rect x="265.00" y="64.20" width="43.00" height="32.00" fill="#000" filter="url(#mot1)"/>
<rect x="265.00" y="64.20" width="43.00" height="32.00" fill="#000" filter="url(#cellC)" opacity="1.0"/>
<rect x="310.00" y="64.20" width="43.00" height="32.00" fill="url(#tg8)"/>
<rect x="310.00" y="64.20" width="43.00" height="32.00" fill="#000" filter="url(#cellD)" opacity="1.0"/>
<rect x="174.00" y="136.20" width="43.00" height="32.00" fill="url(#tg9)"/>
<rect x="174.00" y="136.20" width="43.00" height="32.00" fill="#000" filter="url(#mot3)"/>
<rect x="174.00" y="136.20" width="43.00" height="32.00" fill="#000" filter="url(#cellE)" opacity="0.6"/>
<rect x="219.50" y="136.20" width="43.00" height="32.00" fill="url(#tg10)"/>
<rect x="219.50" y="136.20" width="43.00" height="32.00" fill="#000" filter="url(#mot3)"/>
<rect x="219.50" y="136.20" width="43.00" height="32.00" fill="#000" filter="url(#cellE)" opacity="0.6"/>
<rect x="265.00" y="136.20" width="43.00" height="32.00" fill="url(#tg11)"/>
<rect x="265.00" y="136.20" width="43.00" height="32.00" fill="#000" filter="url(#mot3)"/>
<rect x="265.00" y="136.20" width="43.00" height="32.00" fill="#000" filter="url(#cellE)" opacity="0.6"/>
<rect x="310.00" y="136.20" width="43.00" height="32.00" fill="url(#tg12)"/>
<rect x="310.00" y="136.20" width="43.00" height="32.00" fill="#000" filter="url(#mot3)"/>
<rect x="310.00" y="136.20" width="43.00" height="32.00" fill="#000" filter="url(#cellE)" opacity="0.6"/>
<rect x="174.00" y="170.50" width="43.00" height="32.00" fill="url(#tg13)"/>
<rect x="174.00" y="170.50" width="43.00" height="32.00" fill="#000" filter="url(#mot3)"/>
<rect x="174.00" y="170.50" width="43.00" height="32.00" fill="#000" filter="url(#cellE)" opacity="0.6"/>
<rect x="219.50" y="170.50" width="43.00" height="32.00" fill="url(#tg14)"/>
<rect x="219.50" y="170.50" width="43.00" height="32.00" fill="#000" filter="url(#mot3)"/>
<rect x="219.50" y="170.50" width="43.00" height="32.00" fill="#000" filter="url(#cellE)" opacity="0.6"/>
<rect x="265.00" y="170.50" width="43.00" height="32.00" fill="url(#tg15)"/>
<rect x="265.00" y="170.50" width="43.00" height="32.00" fill="#000" filter="url(#mot3)"/>
<rect x="265.00" y="170.50" width="43.00" height="32.00" fill="#000" filter="url(#cellE)" opacity="0.6"/>
<rect x="310.00" y="170.50" width="43.00" height="32.00" fill="url(#tg16)"/>
<rect x="310.00" y="170.50" width="43.00" height="32.00" fill="#000" filter="url(#mot3)"/>
<rect x="310.00" y="170.50" width="43.00" height="32.00" fill="#000" filter="url(#cellE)" opacity="0.6"/>
<text x="265.30" y="9.00" font-size="11.5" text-anchor="middle" fill="#111" font-weight="bold" stroke="#111" stroke-width="0.322">Bxpc-3</text>
<line x1="183.70" y1="11.80" x2="343.00" y2="11.80" stroke="#222" stroke-width="1.1"/>
<text x="196.50" y="25.80" font-size="9.1" text-anchor="middle" fill="#111" font-weight="bold" stroke="#111" stroke-width="0.255">pcDNA3.1</text>
<text x="242.80" y="25.80" font-size="9.1" text-anchor="middle" fill="#111" font-weight="bold" stroke="#111" stroke-width="0.255">OLR1</text>
<text x="288.70" y="25.80" font-size="9.1" text-anchor="middle" fill="#111" font-weight="bold" stroke="#111" stroke-width="0.255">siNC</text>
<text x="335.00" y="25.80" font-size="9.1" text-anchor="middle" fill="#111" font-weight="bold" stroke="#111" stroke-width="0.255">siOLR1</text>
<text x="170.00" y="44.60" font-size="7.6" text-anchor="middle" fill="#111" font-weight="bold" transform="rotate(-90 170.00 44.60)" stroke="#111" stroke-width="0.213">Migration</text>
<text x="170.00" y="81.90" font-size="7.6" text-anchor="middle" fill="#111" font-weight="bold" transform="rotate(-90 170.00 81.90)" stroke="#111" stroke-width="0.213">Invasion</text>
<text x="263.50" y="113.80" font-size="11.5" text-anchor="middle" fill="#111" font-weight="bold" stroke="#111" stroke-width="0.322">Mia PaCa-2</text>
<line x1="181.00" y1="118.00" x2="340.50" y2="118.00" stroke="#222" stroke-width="1.1"/>
<text x="196.50" y="131.60" font-size="9.1" text-anchor="middle" fill="#111" font-weight="bold" stroke="#111" stroke-width="0.255">pcDNA3.1</text>
<text x="242.00" y="131.60" font-size="9.1" text-anchor="middle" fill="#111" font-weight="bold" stroke="#111" stroke-width="0.255">OLR1</text>
<text x="287.00" y="131.60" font-size="9.1" text-anchor="middle" fill="#111" font-weight="bold" stroke="#111" stroke-width="0.255">siNC</text>
<text x="332.50" y="131.60" font-size="9.1" text-anchor="middle" fill="#111" font-weight="bold" stroke="#111" stroke-width="0.255">siOLR1</text>
<text x="169.80" y="148.00" font-size="7.7" text-anchor="middle" fill="#111" font-weight="bold" transform="rotate(-90 169.80 148.00)" stroke="#111" stroke-width="0.216">Migration</text>
<text x="169.80" y="186.50" font-size="7.7" text-anchor="middle" fill="#111" font-weight="bold" transform="rotate(-90 169.80 186.50)" stroke="#111" stroke-width="0.216">Invasion</text>
<rect x="215.60" y="270.20" width="57.90" height="28.80" fill="url(#gW1)"/>
<rect x="215.60" y="270.20" width="57.90" height="28.80" fill="#000" filter="url(#speck)"/>
<rect x="233.10" y="270.20" width="20.70" height="28.80" fill="#e4d6cc" opacity="0.5"/>
<rect x="231.60" y="270.20" width="3.00" height="28.80" fill="#ee9a92" opacity="0.5"/>
<line x1="233.10" y1="270.20" x2="233.10" y2="299.00" stroke="#d02a2e" stroke-width="1.0"/>
<rect x="252.30" y="270.20" width="3.00" height="28.80" fill="#ee9a92" opacity="0.5"/>
<line x1="253.80" y1="270.20" x2="253.80" y2="299.00" stroke="#d02a2e" stroke-width="1.0"/>
<rect x="277.50" y="270.20" width="57.90" height="28.80" fill="url(#gW1)"/>
<rect x="277.50" y="270.20" width="57.90" height="28.80" fill="#000" filter="url(#speck)"/>
<rect x="296.40" y="270.20" width="18.80" height="28.80" fill="#e4d6cc" opacity="0.5"/>
<rect x="294.90" y="270.20" width="3.00" height="28.80" fill="#ee9a92" opacity="0.5"/>
<line x1="296.40" y1="270.20" x2="296.40" y2="299.00" stroke="#d02a2e" stroke-width="1.0"/>
<rect x="313.70" y="270.20" width="3.00" height="28.80" fill="#ee9a92" opacity="0.5"/>
<line x1="315.20" y1="270.20" x2="315.20" y2="299.00" stroke="#d02a2e" stroke-width="1.0"/>
<rect x="215.60" y="302.30" width="57.90" height="28.80" fill="url(#gW1)"/>
<rect x="215.60" y="302.30" width="57.90" height="28.80" fill="#000" filter="url(#speck)"/>
<rect x="238.50" y="302.30" width="14.50" height="28.80" fill="#e4d6cc" opacity="0.5"/>
<rect x="237.00" y="302.30" width="3.00" height="28.80" fill="#ee9a92" opacity="0.5"/>
<line x1="238.50" y1="302.30" x2="238.50" y2="331.10" stroke="#d02a2e" stroke-width="1.0"/>
<rect x="251.50" y="302.30" width="3.00" height="28.80" fill="#ee9a92" opacity="0.5"/>
<line x1="253.00" y1="302.30" x2="253.00" y2="331.10" stroke="#d02a2e" stroke-width="1.0"/>
<rect x="277.50" y="302.30" width="57.90" height="28.80" fill="url(#gW1)"/>
<rect x="277.50" y="302.30" width="57.90" height="28.80" fill="#000" filter="url(#speck)"/>
<rect x="299.00" y="302.30" width="10.90" height="28.80" fill="#e4d6cc" opacity="0.5"/>
<rect x="297.50" y="302.30" width="3.00" height="28.80" fill="#ee9a92" opacity="0.5"/>
<line x1="299.00" y1="302.30" x2="299.00" y2="331.10" stroke="#d02a2e" stroke-width="1.0"/>
<rect x="308.40" y="302.30" width="3.00" height="28.80" fill="#ee9a92" opacity="0.5"/>
<line x1="309.90" y1="302.30" x2="309.90" y2="331.10" stroke="#d02a2e" stroke-width="1.0"/>
<rect x="215.60" y="334.20" width="57.90" height="28.80" fill="url(#gW1)"/>
<rect x="215.60" y="334.20" width="57.90" height="28.80" fill="#000" filter="url(#speck)"/>
<rect x="240.40" y="334.20" width="6.20" height="28.80" fill="#e4d6cc" opacity="0.5"/>
<rect x="238.90" y="334.20" width="3.00" height="28.80" fill="#ee9a92" opacity="0.5"/>
<line x1="240.40" y1="334.20" x2="240.40" y2="363.00" stroke="#d02a2e" stroke-width="1.0"/>
<rect x="245.10" y="334.20" width="3.00" height="28.80" fill="#ee9a92" opacity="0.5"/>
<line x1="246.60" y1="334.20" x2="246.60" y2="363.00" stroke="#d02a2e" stroke-width="1.0"/>
<rect x="277.50" y="334.20" width="57.90" height="28.80" fill="url(#gW1)"/>
<rect x="277.50" y="334.20" width="57.90" height="28.80" fill="#000" filter="url(#speck)"/>
<rect x="303.70" y="334.20" width="1.80" height="28.80" fill="#e4d6cc" opacity="0.5"/>
<rect x="302.20" y="334.20" width="3.00" height="28.80" fill="#ee9a92" opacity="0.5"/>
<line x1="303.70" y1="334.20" x2="303.70" y2="363.00" stroke="#d02a2e" stroke-width="1.0"/>
<rect x="304.00" y="334.20" width="3.00" height="28.80" fill="#ee9a92" opacity="0.5"/>
<line x1="305.50" y1="334.20" x2="305.50" y2="363.00" stroke="#d02a2e" stroke-width="1.0"/>
<text x="274.00" y="248.80" font-size="11.5" text-anchor="middle" fill="#111" font-weight="bold" stroke="#111" stroke-width="0.322">Bxpc-3</text>
<line x1="217.50" y1="254.80" x2="337.50" y2="254.80" stroke="#222" stroke-width="1.1"/>
<text x="252.20" y="266.30" font-size="9.3" text-anchor="middle" fill="#111" font-weight="bold" stroke="#111" stroke-width="0.260">pcDNA3.1</text>
<text x="309.00" y="266.30" font-size="9.3" text-anchor="middle" fill="#111" font-weight="bold" stroke="#111" stroke-width="0.260">OLR1</text>
<text x="212.30" y="284.40" font-size="7.15" text-anchor="middle" fill="#111" font-weight="bold" transform="rotate(-90 212.30 284.40)" stroke="#111" stroke-width="0.200">0 hour</text>
<text x="212.30" y="316.20" font-size="7.15" text-anchor="middle" fill="#111" font-weight="bold" transform="rotate(-90 212.30 316.20)" stroke="#111" stroke-width="0.200">6 hours</text>
<text x="212.30" y="349.00" font-size="7.15" text-anchor="middle" fill="#111" font-weight="bold" transform="rotate(-90 212.30 349.00)" stroke="#111" stroke-width="0.200">12 hours</text>
<rect x="368.00" y="269.80" width="58.20" height="28.90" fill="url(#gW2)"/>
<rect x="368.00" y="269.80" width="58.20" height="28.90" fill="#000" filter="url(#speck2)"/>
<rect x="386.10" y="269.80" width="21.00" height="28.90" fill="#ddd0c7" opacity="0.85"/>
<rect x="384.60" y="269.80" width="3.00" height="28.90" fill="#ee9a92" opacity="0.5"/>
<line x1="386.10" y1="269.80" x2="386.10" y2="298.70" stroke="#d02a2e" stroke-width="1.0"/>
<rect x="405.60" y="269.80" width="3.00" height="28.90" fill="#ee9a92" opacity="0.5"/>
<line x1="407.10" y1="269.80" x2="407.10" y2="298.70" stroke="#d02a2e" stroke-width="1.0"/>
<rect x="429.50" y="269.80" width="58.20" height="28.90" fill="url(#gW2)"/>
<rect x="429.50" y="269.80" width="58.20" height="28.90" fill="#000" filter="url(#speck2)"/>
<rect x="448.30" y="269.80" width="19.90" height="28.90" fill="#ddd0c7" opacity="0.85"/>
<rect x="446.80" y="269.80" width="3.00" height="28.90" fill="#ee9a92" opacity="0.5"/>
<line x1="448.30" y1="269.80" x2="448.30" y2="298.70" stroke="#d02a2e" stroke-width="1.0"/>
<rect x="466.70" y="269.80" width="3.00" height="28.90" fill="#ee9a92" opacity="0.5"/>
<line x1="468.20" y1="269.80" x2="468.20" y2="298.70" stroke="#d02a2e" stroke-width="1.0"/>
<rect x="368.00" y="302.20" width="58.20" height="28.90" fill="url(#gW2)"/>
<rect x="368.00" y="302.20" width="58.20" height="28.90" fill="#000" filter="url(#speck2)"/>
<rect x="390.20" y="302.20" width="16.90" height="28.90" fill="#ddd0c7" opacity="0.85"/>
<rect x="388.70" y="302.20" width="3.00" height="28.90" fill="#ee9a92" opacity="0.5"/>
<line x1="390.20" y1="302.20" x2="390.20" y2="331.10" stroke="#d02a2e" stroke-width="1.0"/>
<rect x="405.60" y="302.20" width="3.00" height="28.90" fill="#ee9a92" opacity="0.5"/>
<line x1="407.10" y1="302.20" x2="407.10" y2="331.10" stroke="#d02a2e" stroke-width="1.0"/>
<rect x="429.50" y="302.20" width="58.20" height="28.90" fill="url(#gW2)"/>
<rect x="429.50" y="302.20" width="58.20" height="28.90" fill="#000" filter="url(#speck2)"/>
<rect x="452.90" y="302.20" width="11.60" height="28.90" fill="#ddd0c7" opacity="0.85"/>
<rect x="451.40" y="302.20" width="3.00" height="28.90" fill="#ee9a92" opacity="0.5"/>
<line x1="452.90" y1="302.20" x2="452.90" y2="331.10" stroke="#d02a2e" stroke-width="1.0"/>
<rect x="463.00" y="302.20" width="3.00" height="28.90" fill="#ee9a92" opacity="0.5"/>
<line x1="464.50" y1="302.20" x2="464.50" y2="331.10" stroke="#d02a2e" stroke-width="1.0"/>
<rect x="368.00" y="334.50" width="58.20" height="28.90" fill="url(#gW2)"/>
<rect x="368.00" y="334.50" width="58.20" height="28.90" fill="#000" filter="url(#speck2)"/>
<rect x="391.50" y="334.50" width="10.80" height="28.90" fill="#ddd0c7" opacity="0.85"/>
<rect x="390.00" y="334.50" width="3.00" height="28.90" fill="#ee9a92" opacity="0.5"/>
<line x1="391.50" y1="334.50" x2="391.50" y2="363.40" stroke="#d02a2e" stroke-width="1.0"/>
<rect x="400.80" y="334.50" width="3.00" height="28.90" fill="#ee9a92" opacity="0.5"/>
<line x1="402.30" y1="334.50" x2="402.30" y2="363.40" stroke="#d02a2e" stroke-width="1.0"/>
<rect x="429.50" y="334.50" width="58.20" height="28.90" fill="url(#gW2)"/>
<rect x="429.50" y="334.50" width="58.20" height="28.90" fill="#000" filter="url(#speck2)"/>
<rect x="456.80" y="334.50" width="3.00" height="28.90" fill="#ee9a92" opacity="0.5"/>
<line x1="458.30" y1="334.50" x2="458.30" y2="363.40" stroke="#d02a2e" stroke-width="1.8"/>
<text x="427.80" y="248.90" font-size="11.5" text-anchor="middle" fill="#111" font-weight="bold" stroke="#111" stroke-width="0.322">Mia PaCa-2</text>
<line x1="368.80" y1="254.60" x2="487.50" y2="254.60" stroke="#222" stroke-width="1.1"/>
<text x="404.80" y="266.80" font-size="9.3" text-anchor="middle" fill="#111" font-weight="bold" stroke="#111" stroke-width="0.260">pcDNA3.1</text>
<text x="462.30" y="266.80" font-size="9.3" text-anchor="middle" fill="#111" font-weight="bold" stroke="#111" stroke-width="0.260">OLR1</text>
<text x="365.40" y="284.20" font-size="7.15" text-anchor="middle" fill="#111" font-weight="bold" transform="rotate(-90 365.40 284.20)" stroke="#111" stroke-width="0.200">0 hour</text>
<text x="365.40" y="316.60" font-size="7.15" text-anchor="middle" fill="#111" font-weight="bold" transform="rotate(-90 365.40 316.60)" stroke="#111" stroke-width="0.200">12 hours</text>
<text x="365.40" y="349.00" font-size="7.15" text-anchor="middle" fill="#111" font-weight="bold" transform="rotate(-90 365.40 349.00)" stroke="#111" stroke-width="0.200">24 hours</text>
<rect x="37.70" y="508.70" width="58.00" height="29.30" fill="url(#gW1)"/>
<rect x="37.70" y="508.70" width="58.00" height="29.30" fill="#000" filter="url(#speck)"/>
<rect x="57.10" y="508.70" width="16.30" height="29.30" fill="#e4d6cc" opacity="0.5"/>
<rect x="55.60" y="508.70" width="3.00" height="29.30" fill="#ee9a92" opacity="0.5"/>
<line x1="57.10" y1="508.70" x2="57.10" y2="538.00" stroke="#d02a2e" stroke-width="1.0"/>
<rect x="71.90" y="508.70" width="3.00" height="29.30" fill="#ee9a92" opacity="0.5"/>
<line x1="73.40" y1="508.70" x2="73.40" y2="538.00" stroke="#d02a2e" stroke-width="1.0"/>
<rect x="99.00" y="508.70" width="58.00" height="29.30" fill="url(#gW1)"/>
<rect x="99.00" y="508.70" width="58.00" height="29.30" fill="#000" filter="url(#speck)"/>
<rect x="116.40" y="508.70" width="20.70" height="29.30" fill="#e4d6cc" opacity="0.5"/>
<rect x="114.90" y="508.70" width="3.00" height="29.30" fill="#ee9a92" opacity="0.5"/>
<line x1="116.40" y1="508.70" x2="116.40" y2="538.00" stroke="#d02a2e" stroke-width="1.0"/>
<rect x="135.60" y="508.70" width="3.00" height="29.30" fill="#ee9a92" opacity="0.5"/>
<line x1="137.10" y1="508.70" x2="137.10" y2="538.00" stroke="#d02a2e" stroke-width="1.0"/>
<rect x="37.70" y="541.30" width="58.00" height="29.30" fill="url(#gW1)"/>
<rect x="37.70" y="541.30" width="58.00" height="29.30" fill="#000" filter="url(#speck)"/>
<rect x="62.40" y="541.30" width="6.80" height="29.30" fill="#e4d6cc" opacity="0.5"/>
<rect x="60.90" y="541.30" width="3.00" height="29.30" fill="#ee9a92" opacity="0.5"/>
<line x1="62.40" y1="541.30" x2="62.40" y2="570.60" stroke="#d02a2e" stroke-width="1.0"/>
<rect x="67.70" y="541.30" width="3.00" height="29.30" fill="#ee9a92" opacity="0.5"/>
<line x1="69.20" y1="541.30" x2="69.20" y2="570.60" stroke="#d02a2e" stroke-width="1.0"/>
<rect x="99.00" y="541.30" width="58.00" height="29.30" fill="url(#gW1)"/>
<rect x="99.00" y="541.30" width="58.00" height="29.30" fill="#000" filter="url(#speck)"/>
<rect x="121.90" y="541.30" width="13.10" height="29.30" fill="#e4d6cc" opacity="0.5"/>
<rect x="120.40" y="541.30" width="3.00" height="29.30" fill="#ee9a92" opacity="0.5"/>
<line x1="121.90" y1="541.30" x2="121.90" y2="570.60" stroke="#d02a2e" stroke-width="1.0"/>
<rect x="133.50" y="541.30" width="3.00" height="29.30" fill="#ee9a92" opacity="0.5"/>
<line x1="135.00" y1="541.30" x2="135.00" y2="570.60" stroke="#d02a2e" stroke-width="1.0"/>
<rect x="37.70" y="573.70" width="58.00" height="29.30" fill="url(#gW1)"/>
<rect x="37.70" y="573.70" width="58.00" height="29.30" fill="#000" filter="url(#speck)"/>
<rect x="65.80" y="573.70" width="3.00" height="29.30" fill="#ee9a92" opacity="0.5"/>
<line x1="67.30" y1="573.70" x2="67.30" y2="603.00" stroke="#d02a2e" stroke-width="1.8"/>
<rect x="99.00" y="573.70" width="58.00" height="29.30" fill="url(#gW1)"/>
<rect x="99.00" y="573.70" width="58.00" height="29.30" fill="#000" filter="url(#speck)"/>
<rect x="125.00" y="573.70" width="11.00" height="29.30" fill="#e4d6cc" opacity="0.5"/>
<rect x="123.50" y="573.70" width="3.00" height="29.30" fill="#ee9a92" opacity="0.5"/>
<line x1="125.00" y1="573.70" x2="125.00" y2="603.00" stroke="#d02a2e" stroke-width="1.0"/>
<rect x="134.50" y="573.70" width="3.00" height="29.30" fill="#ee9a92" opacity="0.5"/>
<line x1="136.00" y1="573.70" x2="136.00" y2="603.00" stroke="#d02a2e" stroke-width="1.0"/>
<text x="107.00" y="490.20" font-size="11.5" text-anchor="middle" fill="#111" font-weight="bold" stroke="#111" stroke-width="0.322">Bxpc-3</text>
<line x1="40.60" y1="494.80" x2="155.00" y2="494.80" stroke="#222" stroke-width="1.1"/>
<text x="69.30" y="505.40" font-size="9.3" text-anchor="middle" fill="#111" font-weight="bold" stroke="#111" stroke-width="0.260">siNC</text>
<text x="130.75" y="505.40" font-size="9.3" text-anchor="middle" fill="#111" font-weight="bold" stroke="#111" stroke-width="0.260">siOLR1</text>
<text x="33.00" y="523.40" font-size="7.15" text-anchor="middle" fill="#111" font-weight="bold" transform="rotate(-90 33.00 523.40)" stroke="#111" stroke-width="0.200">0 hour</text>
<text x="33.00" y="556.10" font-size="7.15" text-anchor="middle" fill="#111" font-weight="bold" transform="rotate(-90 33.00 556.10)" stroke="#111" stroke-width="0.200">6 hours</text>
<text x="33.00" y="588.30" font-size="7.15" text-anchor="middle" fill="#111" font-weight="bold" transform="rotate(-90 33.00 588.30)" stroke="#111" stroke-width="0.200">12 hours</text>
<rect x="183.00" y="509.50" width="58.20" height="28.70" fill="url(#gW2)"/>
<rect x="183.00" y="509.50" width="58.20" height="28.70" fill="#000" filter="url(#speck2)"/>
<rect x="202.00" y="509.50" width="21.00" height="28.70" fill="#ddd0c7" opacity="0.85"/>
<rect x="200.50" y="509.50" width="3.00" height="28.70" fill="#ee9a92" opacity="0.5"/>
<line x1="202.00" y1="509.50" x2="202.00" y2="538.20" stroke="#d02a2e" stroke-width="1.0"/>
<rect x="221.50" y="509.50" width="3.00" height="28.70" fill="#ee9a92" opacity="0.5"/>
<line x1="223.00" y1="509.50" x2="223.00" y2="538.20" stroke="#d02a2e" stroke-width="1.0"/>
<rect x="244.30" y="509.50" width="58.20" height="28.70" fill="url(#gW2)"/>
<rect x="244.30" y="509.50" width="58.20" height="28.70" fill="#000" filter="url(#speck2)"/>
<rect x="262.50" y="509.50" width="20.80" height="28.70" fill="#ddd0c7" opacity="0.85"/>
<rect x="261.00" y="509.50" width="3.00" height="28.70" fill="#ee9a92" opacity="0.5"/>
<line x1="262.50" y1="509.50" x2="262.50" y2="538.20" stroke="#d02a2e" stroke-width="1.0"/>
<rect x="281.80" y="509.50" width="3.00" height="28.70" fill="#ee9a92" opacity="0.5"/>
<line x1="283.30" y1="509.50" x2="283.30" y2="538.20" stroke="#d02a2e" stroke-width="1.0"/>
<rect x="183.00" y="541.80" width="58.20" height="28.70" fill="url(#gW2)"/>
<rect x="183.00" y="541.80" width="58.20" height="28.70" fill="#000" filter="url(#speck2)"/>
<rect x="204.30" y="541.80" width="12.00" height="28.70" fill="#ddd0c7" opacity="0.85"/>
<rect x="202.80" y="541.80" width="3.00" height="28.70" fill="#ee9a92" opacity="0.5"/>
<line x1="204.30" y1="541.80" x2="204.30" y2="570.50" stroke="#d02a2e" stroke-width="1.0"/>
<rect x="214.80" y="541.80" width="3.00" height="28.70" fill="#ee9a92" opacity="0.5"/>
<line x1="216.30" y1="541.80" x2="216.30" y2="570.50" stroke="#d02a2e" stroke-width="1.0"/>
<rect x="244.30" y="541.80" width="58.20" height="28.70" fill="url(#gW2)"/>
<rect x="244.30" y="541.80" width="58.20" height="28.70" fill="#000" filter="url(#speck2)"/>
<rect x="265.00" y="541.80" width="16.80" height="28.70" fill="#ddd0c7" opacity="0.85"/>
<rect x="263.50" y="541.80" width="3.00" height="28.70" fill="#ee9a92" opacity="0.5"/>
<line x1="265.00" y1="541.80" x2="265.00" y2="570.50" stroke="#d02a2e" stroke-width="1.0"/>
<rect x="280.30" y="541.80" width="3.00" height="28.70" fill="#ee9a92" opacity="0.5"/>
<line x1="281.80" y1="541.80" x2="281.80" y2="570.50" stroke="#d02a2e" stroke-width="1.0"/>
<rect x="183.00" y="573.80" width="58.20" height="28.70" fill="url(#gW2)"/>
<rect x="183.00" y="573.80" width="58.20" height="28.70" fill="#000" filter="url(#speck2)"/>
<rect x="205.50" y="573.80" width="7.80" height="28.70" fill="#ddd0c7" opacity="0.85"/>
<rect x="204.00" y="573.80" width="3.00" height="28.70" fill="#ee9a92" opacity="0.5"/>
<line x1="205.50" y1="573.80" x2="205.50" y2="602.50" stroke="#d02a2e" stroke-width="1.0"/>
<rect x="211.80" y="573.80" width="3.00" height="28.70" fill="#ee9a92" opacity="0.5"/>
<line x1="213.30" y1="573.80" x2="213.30" y2="602.50" stroke="#d02a2e" stroke-width="1.0"/>
<rect x="244.30" y="573.80" width="58.20" height="28.70" fill="url(#gW2)"/>
<rect x="244.30" y="573.80" width="58.20" height="28.70" fill="#000" filter="url(#speck2)"/>
<rect x="265.00" y="573.80" width="13.30" height="28.70" fill="#ddd0c7" opacity="0.85"/>
<rect x="263.50" y="573.80" width="3.00" height="28.70" fill="#ee9a92" opacity="0.5"/>
<line x1="265.00" y1="573.80" x2="265.00" y2="602.50" stroke="#d02a2e" stroke-width="1.0"/>
<rect x="276.80" y="573.80" width="3.00" height="28.70" fill="#ee9a92" opacity="0.5"/>
<line x1="278.30" y1="573.80" x2="278.30" y2="602.50" stroke="#d02a2e" stroke-width="1.0"/>
<text x="258.50" y="491.30" font-size="11.5" text-anchor="middle" fill="#111" font-weight="bold" stroke="#111" stroke-width="0.322">Mia PaCa-2</text>
<line x1="187.00" y1="495.50" x2="300.70" y2="495.50" stroke="#222" stroke-width="1.1"/>
<text x="216.40" y="506.40" font-size="9.3" text-anchor="middle" fill="#111" font-weight="bold" stroke="#111" stroke-width="0.260">siNC</text>
<text x="277.90" y="506.40" font-size="9.3" text-anchor="middle" fill="#111" font-weight="bold" stroke="#111" stroke-width="0.260">siOLR1</text>
<text x="179.80" y="523.80" font-size="7.15" text-anchor="middle" fill="#111" font-weight="bold" transform="rotate(-90 179.80 523.80)" stroke="#111" stroke-width="0.200">0 hour</text>
<text x="179.80" y="556.10" font-size="7.15" text-anchor="middle" fill="#111" font-weight="bold" transform="rotate(-90 179.80 556.10)" stroke="#111" stroke-width="0.200">12 hours</text>
<text x="179.80" y="588.20" font-size="7.15" text-anchor="middle" fill="#111" font-weight="bold" transform="rotate(-90 179.80 588.20)" stroke="#111" stroke-width="0.200">24 hours</text>
<rect x="370.00" y="545.50" width="113.50" height="19.50" fill="url(#gB1)"/>
<g>
<ellipse cx="383.5" cy="555.3" rx="10" ry="2.6" fill="#2e2e2e" filter="url(#bl)"/>
<ellipse cx="411" cy="555.6" rx="10" ry="2.3" fill="#626262" filter="url(#bl)"/>
<ellipse cx="439" cy="555.3" rx="10.5" ry="2.7" fill="#262626" filter="url(#bl)"/>
<ellipse cx="469.5" cy="555.3" rx="11.5" ry="3.9" fill="#0c0c0c" filter="url(#bl)"/>
</g>
<rect x="370.00" y="545.50" width="113.50" height="19.50" fill="none" stroke="#2a2a2a" stroke-width="1"/>
<rect x="370.00" y="577.00" width="114.00" height="19.50" fill="url(#gB1)"/>
<g>
<ellipse cx="384" cy="587" rx="13.5" ry="3.3" fill="#161616" filter="url(#bl)"/>
<ellipse cx="412" cy="587.4" rx="13.5" ry="3.3" fill="#161616" filter="url(#bl)"/>
<ellipse cx="440" cy="587.4" rx="13.5" ry="3.3" fill="#161616" filter="url(#bl)"/>
<ellipse cx="469" cy="587.4" rx="13.5" ry="3.3" fill="#161616" filter="url(#bl)"/>
</g>
<rect x="370.00" y="577.00" width="114.00" height="19.50" fill="none" stroke="#2a2a2a" stroke-width="1"/>
<rect x="367.50" y="626.30" width="114.50" height="19.20" fill="url(#gB3)"/>
<g>
<ellipse cx="381" cy="635.2" rx="10.5" ry="2.8" fill="#111" filter="url(#bl)"/>
<ellipse cx="409.5" cy="635.6" rx="10" ry="2.2" fill="#8a8a8a" filter="url(#bl)"/>
<ellipse cx="437.5" cy="635" rx="10.5" ry="2.6" fill="#1a1a1a" filter="url(#bl)"/>
<ellipse cx="466" cy="635.5" rx="12" ry="5.8" fill="#050505" filter="url(#bl2)"/>
</g>
<rect x="367.50" y="626.30" width="114.50" height="19.20" fill="none" stroke="#2a2a2a" stroke-width="1"/>
<rect x="367.50" y="659.50" width="115.00" height="18.00" fill="url(#gB1)"/>
<g>
<ellipse cx="381" cy="668.8" rx="14" ry="3.4" fill="#111" filter="url(#bl)"/>
<ellipse cx="409" cy="669" rx="14" ry="3.4" fill="#111" filter="url(#bl)"/>
<ellipse cx="438" cy="668.8" rx="14" ry="3.4" fill="#111" filter="url(#bl)"/>
<ellipse cx="467" cy="669" rx="14" ry="3.4" fill="#111" filter="url(#bl)"/>
</g>
<rect x="367.50" y="659.50" width="115.00" height="18.00" fill="none" stroke="#2a2a2a" stroke-width="1"/>
<text x="382.00" y="541.00" font-size="9.5" text-anchor="start" fill="#111" font-weight="bold" transform="rotate(-48 382.00 541.00)" stroke="#111" stroke-width="0.266">siNC</text>
<text x="410.00" y="541.00" font-size="9.5" text-anchor="start" fill="#111" font-weight="bold" transform="rotate(-48 410.00 541.00)" stroke="#111" stroke-width="0.266">siOLR1</text>
<text x="439.30" y="541.00" font-size="9.5" text-anchor="start" fill="#111" font-weight="bold" transform="rotate(-48 439.30 541.00)" stroke="#111" stroke-width="0.266">pcDNA3.1</text>
<text x="468.50" y="539.80" font-size="9.5" text-anchor="start" fill="#111" font-weight="bold" transform="rotate(-48 468.50 539.80)" stroke="#111" stroke-width="0.266">OLR1</text>
<text x="333.60" y="559.00" font-size="9.5" text-anchor="start" fill="#111" font-weight="bold" stroke="#111" stroke-width="0.266">OLR1</text>
<text x="335.20" y="572.10" font-size="7.6" text-anchor="start" fill="#111" font-weight="bold" stroke="#111" stroke-width="0.213">Ratio</text>
<text x="332.80" y="590.20" font-size="9.6" text-anchor="start" fill="#111" font-weight="bold" stroke="#111" stroke-width="0.269">β-Actin</text>
<text x="380.40" y="575.00" font-size="8.2" text-anchor="middle" fill="#111" font-weight="bold" stroke="#111" stroke-width="0.230">1</text>
<text x="412.50" y="575.00" font-size="8.2" text-anchor="middle" fill="#111" font-weight="bold" stroke="#111" stroke-width="0.230">0.41</text>
<text x="437.20" y="575.00" font-size="8.2" text-anchor="middle" fill="#111" font-weight="bold" stroke="#111" stroke-width="0.230">1</text>
<text x="471.30" y="575.00" font-size="8.2" text-anchor="middle" fill="#111" font-weight="bold" stroke="#111" stroke-width="0.230">3.56</text>
<text x="430.00" y="612.50" font-size="11.5" text-anchor="middle" fill="#111" font-weight="bold" stroke="#111" stroke-width="0.322">Bxpc-3</text>
<text x="332.60" y="641.60" font-size="9.5" text-anchor="start" fill="#111" font-weight="bold" stroke="#111" stroke-width="0.266">OLR1</text>
<text x="337.30" y="656.30" font-size="7.8" text-anchor="start" fill="#111" font-weight="bold" stroke="#111" stroke-width="0.218">Ratio</text>
<text x="329.50" y="672.60" font-size="9.8" text-anchor="start" fill="#111" font-weight="bold" stroke="#111" stroke-width="0.274">β-Actin</text>
<text x="378.70" y="656.60" font-size="8.2" text-anchor="middle" fill="#111" font-weight="bold" stroke="#111" stroke-width="0.230">1</text>
<text x="410.60" y="656.60" font-size="8.2" text-anchor="middle" fill="#111" font-weight="bold" stroke="#111" stroke-width="0.230">0.18</text>
<text x="436.80" y="656.60" font-size="8.2" text-anchor="middle" fill="#111" font-weight="bold" stroke="#111" stroke-width="0.230">1</text>
<text x="467.10" y="656.60" font-size="8.2" text-anchor="middle" fill="#111" font-weight="bold" stroke="#111" stroke-width="0.230">4.61</text>
<text x="429.00" y="698.70" font-size="11.5" text-anchor="middle" fill="#111" font-weight="bold" stroke="#111" stroke-width="0.322">Mia PaCa-2</text></svg></body></html>
